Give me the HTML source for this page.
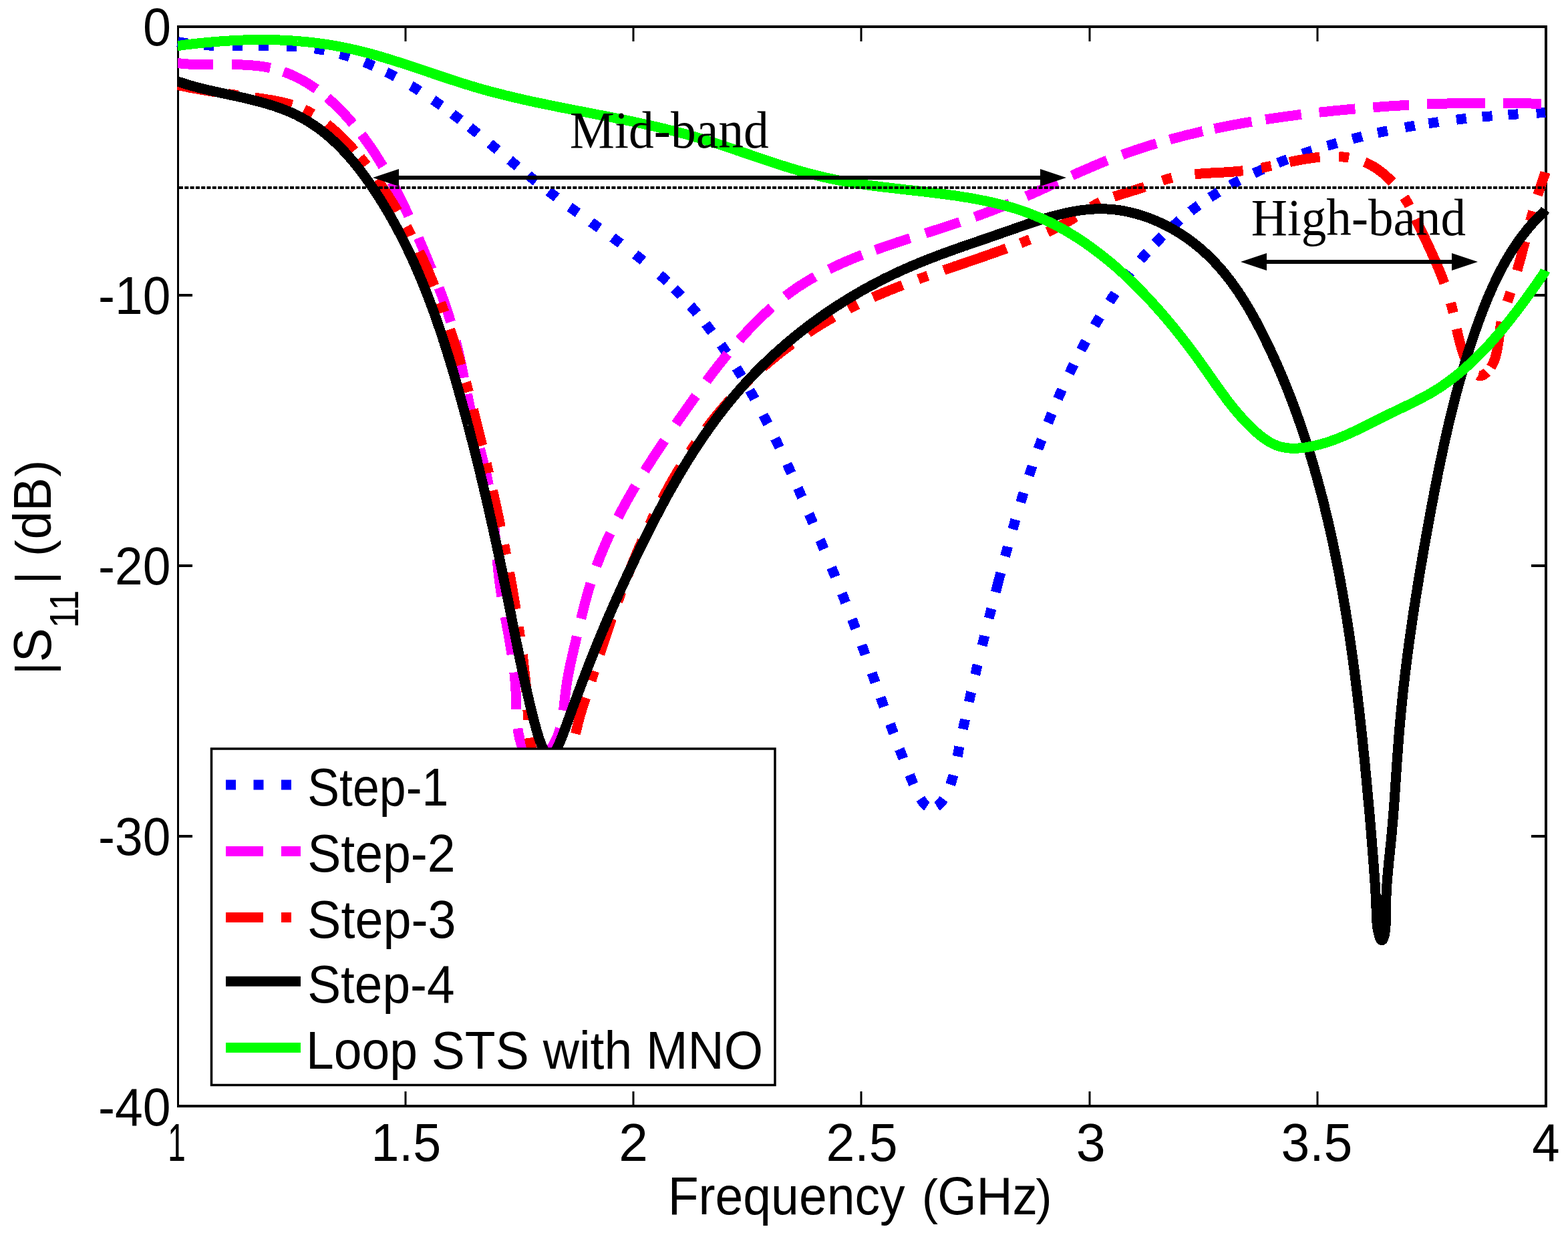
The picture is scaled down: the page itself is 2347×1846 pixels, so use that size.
<!DOCTYPE html><html><head><meta charset="utf-8"><title>S11 plot</title>
<style>html,body{margin:0;padding:0;background:#fff;}svg{display:block;}text{font-family:"Liberation Sans", Arial, Helvetica, sans-serif;}</style></head><body>
<svg xmlns="http://www.w3.org/2000/svg" width="2347" height="1846" viewBox="0 0 2347 1846">
<rect x="0" y="0" width="2347" height="1846" fill="#fff"/>
<g fill="#000">
<rect x="265" y="38" width="3" height="1620"/>
<rect x="2312" y="38" width="4" height="1620"/>
<rect x="265" y="38" width="2051" height="4"/>
<rect x="265" y="1654" width="2051" height="4"/>
<rect x="268" y="440" width="20" height="4"/>
<rect x="2292" y="440" width="20" height="4"/>
<rect x="268" y="845" width="20" height="4"/>
<rect x="2292" y="845" width="20" height="4"/>
<rect x="268" y="1250" width="20" height="4"/>
<rect x="2292" y="1250" width="20" height="4"/>
<rect x="605.5" y="42" width="3" height="20"/>
<rect x="605.5" y="1634" width="3" height="20"/>
<rect x="946.5" y="42" width="3" height="20"/>
<rect x="946.5" y="1634" width="3" height="20"/>
<rect x="1287.5" y="42" width="3" height="20"/>
<rect x="1287.5" y="1634" width="3" height="20"/>
<rect x="1629.5" y="42" width="3" height="20"/>
<rect x="1629.5" y="1634" width="3" height="20"/>
<rect x="1970.5" y="42" width="3" height="20"/>
<rect x="1970.5" y="1634" width="3" height="20"/>
</g>
<path d="M266.0 62.5 L269.2 63.2 L272.1 63.7 L275.0 64.2 L277.8 64.6 L280.8 65.0 M305.6 67.6 L307.2 67.7 L310.1 67.9 L313.1 68.0 L316.1 68.2 L319.1 68.3 L320.6 68.4 M347.6 68.9 L349.1 68.9 L352.1 68.9 L355.1 68.9 L358.2 68.9 L361.2 68.8 L362.6 68.8 M387.0 68.7 L388.5 68.6 L391.5 68.6 L394.5 68.6 L397.6 68.6 L400.6 68.6 L402.0 68.6 M429.3 69.2 L430.8 69.2 L433.8 69.4 L436.8 69.5 L439.8 69.7 L442.8 69.9 L444.3 70.0 M471.0 72.8 L472.5 73.0 L475.5 73.4 L478.4 73.9 L481.4 74.4 L484.3 75.0 L485.8 75.3 M508.8 80.7 L510.3 81.1 L513.2 81.9 L516.0 82.8 L518.9 83.6 L521.7 84.5 L523.2 85.0 M545.5 93.1 L546.9 93.7 L549.7 94.8 L552.5 95.9 L555.2 97.1 L558.0 98.3 L559.4 98.9 M578.4 107.9 L579.7 108.5 L582.4 109.9 L585.1 111.3 L587.7 112.7 L590.4 114.1 L591.7 114.8 M615.3 128.3 L616.6 129.0 L619.1 130.6 L621.7 132.2 L624.3 133.8 L626.8 135.4 L628.0 136.2 M648.2 149.6 L649.4 150.4 L651.9 152.1 L654.3 153.8 L656.8 155.6 L659.2 157.3 L660.5 158.2 M677.3 170.5 L678.5 171.5 L680.9 173.3 L683.3 175.1 L685.6 176.9 L688.0 178.7 L689.2 179.6 M703.2 190.6 L704.4 191.6 L706.7 193.4 L709.1 195.3 L711.4 197.1 L713.7 199.0 L714.9 200.0 M733.2 214.9 L734.4 215.9 L736.7 217.8 L739.0 219.7 L741.3 221.6 L743.6 223.5 L744.8 224.5 M763.0 239.6 L764.2 240.6 L766.4 242.5 L768.7 244.4 L771.0 246.3 L773.3 248.2 L774.5 249.2 M790.6 262.3 L791.8 263.3 L794.1 265.2 L796.4 267.0 L798.8 268.9 L801.1 270.8 L802.3 271.7 M821.2 286.5 L822.4 287.4 L824.7 289.2 L827.1 291.0 L829.5 292.8 L832.0 294.6 L833.1 295.5 M852.7 309.9 L853.9 310.7 L856.3 312.5 L858.8 314.2 L861.3 316.0 L863.7 317.8 L864.9 318.6 M884.8 332.7 L886.0 333.6 L888.5 335.3 L890.9 337.1 L893.4 338.8 L895.9 340.6 L897.1 341.4 M916.9 355.6 L918.1 356.5 L920.5 358.3 L923.0 360.0 L925.4 361.8 L927.9 363.6 L929.0 364.5 M950.8 380.9 L951.9 381.8 L954.3 383.7 L956.7 385.5 L959.0 387.4 L961.4 389.3 L962.5 390.2 M987.6 411.5 L988.7 412.5 L991.0 414.5 L993.2 416.5 L995.3 418.5 L997.5 420.6 L998.6 421.6 M1009.2 431.9 L1010.3 433.0 L1012.4 435.1 L1014.4 437.2 L1016.5 439.3 L1018.6 441.5 L1019.6 442.6 M1033.5 457.8 L1034.6 458.9 L1036.5 461.2 L1038.4 463.4 L1040.4 465.6 L1042.3 467.9 L1043.3 469.1 M1056.3 485.0 L1057.2 486.3 L1059.1 488.6 L1060.9 491.0 L1062.7 493.3 L1064.5 495.7 L1065.4 496.9 M1079.3 516.0 L1080.2 517.3 L1081.9 519.7 L1083.5 522.2 L1085.2 524.6 L1086.9 527.1 L1087.8 528.4 M1102.3 550.8 L1103.1 552.1 L1104.7 554.7 L1106.3 557.2 L1107.8 559.7 L1109.4 562.3 L1110.2 563.6 M1122.3 584.3 L1123.0 585.6 L1124.5 588.2 L1126.0 590.8 L1127.4 593.4 L1128.9 596.0 L1129.6 597.3 M1142.4 621.3 L1143.1 622.6 L1144.5 625.3 L1145.9 627.9 L1147.3 630.6 L1148.6 633.3 L1149.3 634.6 M1160.1 656.4 L1160.7 657.7 L1162.1 660.4 L1163.4 663.1 L1164.7 665.8 L1166.0 668.6 L1166.6 669.9 M1178.2 694.7 L1178.8 696.0 L1180.0 698.8 L1181.3 701.5 L1182.5 704.3 L1183.8 707.1 L1184.4 708.4 M1194.3 730.7 L1194.9 732.0 L1196.1 734.7 L1197.3 737.5 L1198.5 740.3 L1199.7 743.1 L1200.3 744.4 M1211.0 769.5 L1211.6 770.8 L1212.8 773.6 L1214.0 776.4 L1215.2 779.2 L1216.3 781.9 L1216.9 783.3 M1227.4 808.3 L1228.0 809.6 L1229.2 812.4 L1230.3 815.2 L1231.5 817.9 L1232.6 820.7 L1233.2 822.1 M1244.6 849.7 L1245.2 851.1 L1246.3 853.9 L1247.4 856.7 L1248.6 859.4 L1249.7 862.2 L1250.2 863.6 M1260.2 888.4 L1260.8 889.8 L1261.9 892.6 L1263.0 895.4 L1264.0 898.1 L1265.1 900.9 L1265.7 902.4 M1275.3 927.1 L1275.9 928.6 L1277.0 931.3 L1278.0 934.1 L1279.1 936.9 L1280.1 939.6 L1280.7 941.1 M1290.0 965.9 L1290.5 967.4 L1291.5 970.1 L1292.6 972.9 L1293.6 975.7 L1294.6 978.5 L1295.1 980.0 M1305.1 1007.6 L1305.6 1009.1 L1306.6 1011.9 L1307.6 1014.6 L1308.6 1017.4 L1309.6 1020.2 L1310.1 1021.7 M1318.1 1044.1 L1318.6 1045.5 L1319.6 1048.3 L1320.6 1051.1 L1321.6 1054.0 L1322.6 1056.8 L1323.1 1058.2 M1332.4 1083.9 L1332.9 1085.2 L1333.9 1088.1 L1335.0 1091.0 L1336.0 1093.8 L1337.1 1096.7 L1337.6 1098.0 M1346.4 1121.6 L1346.9 1122.8 L1348.0 1125.7 L1349.1 1128.7 L1350.3 1131.6 L1351.4 1134.5 L1351.8 1135.6 M1361.6 1160.2 L1362.0 1161.2 L1363.2 1164.2 L1364.4 1167.2 L1365.7 1170.2 L1366.9 1173.2 L1367.3 1174.1 M1377.8 1195.8 L1379.1 1197.8 L1380.5 1200.0 L1382.1 1202.0 L1383.7 1203.7 L1385.3 1205.3 L1387.0 1206.6 L1387.6 1207.0 M1402.2 1207.1 L1402.2 1207.1 L1404.2 1205.8 L1406.1 1204.2 L1408.0 1202.4 L1409.7 1200.3 L1411.4 1197.9 L1412.5 1196.4 M1422.6 1174.8 L1422.8 1174.2 L1423.9 1170.9 L1424.9 1167.7 L1425.9 1164.5 L1426.8 1161.3 L1427.0 1160.5 M1433.1 1132.6 L1433.4 1131.1 L1434.0 1128.1 L1434.5 1125.2 L1435.1 1122.3 L1435.6 1119.4 L1435.9 1117.8 M1441.4 1091.6 L1441.7 1090.1 L1442.3 1087.2 L1442.9 1084.3 L1443.6 1081.4 L1444.2 1078.5 L1444.5 1077.0 M1450.4 1050.8 L1450.7 1049.3 L1451.4 1046.4 L1452.0 1043.5 L1452.7 1040.6 L1453.3 1037.6 L1453.7 1036.2 M1459.7 1010.0 L1460.1 1008.5 L1460.8 1005.6 L1461.4 1002.7 L1462.1 999.8 L1462.8 996.9 L1463.2 995.4 M1470.1 966.4 L1470.5 964.9 L1471.2 962.0 L1471.9 959.1 L1472.6 956.2 L1473.4 953.3 L1473.7 951.8 M1480.2 925.7 L1480.6 924.3 L1481.3 921.4 L1482.1 918.5 L1482.8 915.6 L1483.5 912.7 L1483.9 911.2 M1490.3 886.5 L1491.0 883.6 L1491.8 880.7 L1492.5 877.8 L1493.3 874.9 L1494.0 872.0 L1494.8 869.1 L1495.6 866.2 L1496.3 863.3 L1497.1 860.4 L1497.9 857.5 M1504.5 832.8 L1504.9 831.4 L1505.7 828.5 L1506.5 825.6 L1507.3 822.7 L1508.1 819.8 L1508.4 818.4 M1515.8 792.3 L1516.2 790.9 L1517.0 788.0 L1517.9 785.1 L1518.7 782.2 L1519.5 779.4 L1519.9 777.9 M1527.7 752.0 L1528.1 750.6 L1529.0 747.7 L1529.9 744.8 L1530.8 742.0 L1531.7 739.1 L1532.1 737.7 M1540.4 712.0 L1540.9 710.5 L1541.8 707.7 L1542.8 704.8 L1543.7 702.0 L1544.7 699.2 L1545.1 697.7 M1554.0 672.3 L1554.5 670.8 L1555.5 668.0 L1556.6 665.2 L1557.6 662.4 L1558.6 659.6 L1559.2 658.2 M1568.7 633.0 L1569.3 631.6 L1570.4 628.8 L1571.5 626.1 L1572.6 623.3 L1573.7 620.5 L1574.3 619.1 M1583.5 597.1 L1584.1 595.7 L1585.3 592.9 L1586.5 590.2 L1587.7 587.5 L1588.9 584.7 L1589.5 583.3 M1600.8 558.9 L1601.4 557.6 L1602.7 554.9 L1604.0 552.2 L1605.3 549.5 L1606.7 546.8 L1607.3 545.5 M1618.2 524.2 L1618.9 522.8 L1620.3 520.2 L1621.7 517.5 L1623.1 514.9 L1624.5 512.3 L1625.3 510.9 M1638.6 487.5 L1639.3 486.2 L1640.8 483.6 L1642.4 481.0 L1643.9 478.4 L1645.5 475.9 L1646.3 474.6 M1660.8 451.7 L1661.6 450.4 L1663.3 447.9 L1664.9 445.4 L1666.6 442.9 L1668.3 440.5 L1669.1 439.2 M1683.2 419.6 L1684.0 418.4 L1685.8 416.0 L1687.6 413.6 L1689.5 411.2 L1691.3 408.8 L1692.2 407.6 M1707.3 389.0 L1708.3 387.8 L1710.2 385.5 L1712.2 383.3 L1714.1 381.0 L1716.1 378.7 L1717.1 377.6 M1729.2 364.4 L1730.3 363.3 L1732.4 361.2 L1734.4 359.0 L1736.5 356.9 L1738.6 354.8 L1739.7 353.7 M1754.8 339.4 L1755.9 338.3 L1758.1 336.3 L1760.4 334.4 L1762.6 332.4 L1764.8 330.5 L1766.0 329.4 M1782.1 316.4 L1783.3 315.4 L1785.7 313.6 L1788.1 311.8 L1790.4 310.0 L1792.8 308.3 L1794.1 307.4 M1811.2 295.6 L1812.5 294.8 L1815.0 293.2 L1817.6 291.6 L1820.1 290.0 L1822.6 288.4 L1823.9 287.6 M1842.0 277.2 L1843.4 276.4 L1846.0 275.0 L1848.6 273.6 L1851.3 272.2 L1853.9 270.8 L1855.3 270.1 M1876.9 259.4 L1878.2 258.8 L1881.0 257.5 L1883.7 256.3 L1886.5 255.1 L1889.2 253.8 L1890.6 253.2 M1912.9 243.9 L1914.3 243.3 L1917.1 242.2 L1919.9 241.1 L1922.7 240.1 L1925.5 239.0 L1926.9 238.5 M1949.7 230.3 L1951.1 229.8 L1953.9 228.8 L1956.8 227.8 L1959.6 226.9 L1962.5 225.9 L1963.9 225.5 M1986.8 218.3 L1988.3 217.9 L1991.1 217.0 L1994.0 216.2 L1996.9 215.4 L1999.8 214.5 L2001.2 214.1 M2024.3 207.9 L2025.8 207.5 L2028.7 206.8 L2031.6 206.0 L2034.5 205.3 L2037.4 204.6 L2038.9 204.2 M2062.1 198.9 L2063.6 198.6 L2066.5 197.9 L2069.4 197.3 L2072.3 196.7 L2075.3 196.1 L2076.8 195.8 M2103.1 190.7 L2104.6 190.4 L2107.5 189.9 L2110.5 189.4 L2113.4 188.9 L2116.3 188.4 L2117.8 188.1 M2138.4 184.8 L2139.9 184.6 L2142.9 184.1 L2145.8 183.7 L2148.8 183.3 L2151.8 182.9 L2153.3 182.6 M2179.9 179.2 L2181.4 179.0 L2184.4 178.6 L2187.4 178.3 L2190.3 177.9 L2193.3 177.6 L2194.8 177.4 M2218.6 175.0 L2220.1 174.9 L2223.1 174.6 L2226.1 174.3 L2229.1 174.1 L2232.1 173.8 L2233.6 173.7 M2257.5 171.8 L2259.0 171.7 L2262.0 171.5 L2265.0 171.3 L2268.0 171.1 L2271.0 170.9 L2272.5 170.8 M2299.6 169.3 L2301.1 169.2 L2304.1 169.0 L2307.1 168.9 L2310.1 168.8 L2313.0 168.5" fill="none" stroke="#0000ff" stroke-width="15" stroke-linejoin="round" stroke-linecap="butt" shape-rendering="crispEdges"/>
<path d="M266.0 95.0 L269.3 94.9 L272.1 95.2 L274.9 95.4 L277.7 95.7 L280.6 95.9 L283.5 96.1 L286.4 96.2 L289.3 96.3 L292.2 96.4 L295.2 96.5 L298.2 96.6 L301.2 96.6 L304.2 96.7 L307.2 96.7 L310.2 96.7 L313.2 96.7 L316.3 96.7 L319.3 96.7 M347.1 96.6 L350.2 96.6 L353.3 96.7 L356.4 96.8 L359.4 96.9 L362.5 97.0 L365.6 97.1 L368.7 97.3 L371.7 97.4 L374.8 97.7 L377.8 97.9 L380.8 98.2 L383.9 98.5 L386.9 98.8 L389.9 99.2 L392.8 99.6 L395.8 100.1 L398.8 100.6 L401.7 101.2 L404.6 101.8 M424.4 107.4 L427.2 108.4 L429.9 109.5 L432.6 110.5 L435.3 111.7 L438.0 112.9 L440.7 114.1 L443.3 115.3 L445.9 116.6 L448.6 118.0 L451.1 119.3 L453.7 120.8 L456.2 122.2 L458.8 123.7 L461.3 125.2 L463.8 126.8 L466.2 128.4 L468.7 130.1 L471.1 131.7 L473.5 133.4 M489.9 146.3 L492.2 148.2 L494.5 150.2 L496.7 152.2 L498.9 154.2 L501.1 156.3 L503.3 158.4 L505.4 160.5 L507.6 162.6 L509.7 164.7 L511.8 166.9 L513.9 169.1 L516.0 171.3 L518.0 173.5 L520.0 175.8 L522.1 178.1 L524.1 180.3 L526.0 182.6 L528.0 185.0 M541.3 201.6 L543.1 204.0 L544.9 206.4 L546.7 208.9 L548.4 211.3 L550.2 213.8 L551.9 216.3 L553.7 218.7 L555.4 221.2 L557.1 223.7 L558.7 226.2 L560.4 228.7 L562.0 231.2 L563.7 233.8 L565.3 236.3 L566.9 238.8 L568.5 241.4 L570.0 243.9 L571.6 246.5 L573.2 249.1 M586.5 272.5 L587.9 275.1 L589.3 277.8 L590.7 280.4 L592.1 283.1 L593.5 285.7 L594.8 288.4 L596.2 291.1 L597.6 293.7 L598.9 296.4 L600.2 299.1 L601.5 301.8 L602.9 304.5 L604.2 307.1 L605.4 309.8 L606.7 312.6 L608.0 315.3 L609.3 318.0 L610.5 320.7 L611.8 323.4 M626.4 356.2 L627.5 359.0 L628.7 361.8 L629.9 364.5 L631.1 367.3 L632.2 370.0 L633.4 372.8 L634.5 375.6 L635.7 378.3 L636.9 381.1 L638.0 383.9 L639.2 386.6 L640.3 389.4 L641.4 392.2 L642.6 394.9 L643.7 397.7 L644.9 400.5 L646.0 403.2 M657.1 431.0 L658.1 433.8 L659.2 436.6 L660.3 439.4 L661.3 442.2 L662.3 445.0 L663.4 447.8 L664.4 450.7 L665.4 453.5 L666.3 456.3 L667.3 459.1 L668.3 462.0 L669.2 464.8 L670.2 467.7 L671.1 470.5 L672.0 473.4 L672.9 476.2 L673.7 479.1 L674.6 482.0 M682.4 510.9 L683.1 513.9 L683.8 516.8 L684.5 519.7 L685.2 522.6 L685.9 525.6 L686.5 528.5 L687.2 531.4 L687.8 534.4 L688.5 537.3 L689.1 540.2 L689.8 543.2 L690.4 546.1 L691.0 549.0 L691.6 552.0 L692.2 554.9 L692.8 557.9 L693.4 560.8 L694.1 563.7 L694.4 565.6 M699.4 590.1 L700.0 593.1 L700.6 596.0 L701.2 598.9 L701.8 601.8 L702.4 604.8 L703.0 607.7 L703.6 610.6 L704.3 613.5 L704.9 616.5 L705.5 619.4 L706.2 622.3 L706.8 625.2 L707.5 628.1 L708.1 631.1 L708.8 634.0 L709.5 636.9 L710.1 639.8 L710.8 642.7 L711.5 645.6 M718.3 671.8 L719.1 674.7 L719.8 677.7 L720.6 680.6 L721.4 683.5 L722.1 686.4 L722.9 689.3 L723.6 692.2 L724.4 695.1 L725.1 698.0 L725.8 701.0 L726.5 703.9 L727.2 706.8 L727.9 709.7 L728.6 712.7 L729.2 715.6 L729.8 718.5 L730.4 721.5 L731.0 724.4 L731.4 726.3 M735.8 754.0 L736.2 756.9 L736.6 759.9 L737.0 762.9 L737.3 765.8 L737.7 768.8 L738.0 771.8 L738.3 774.8 L738.6 777.8 L738.9 780.7 L739.2 783.7 L739.5 786.7 L739.8 789.7 L740.1 792.7 L740.4 795.7 L740.7 798.6 L740.9 801.6 L741.2 804.6 L741.5 807.6 L741.6 809.6 M744.1 837.5 L744.4 840.5 L744.7 843.5 L745.0 846.5 L745.3 849.5 L745.6 852.5 L745.9 855.4 L746.2 858.4 L746.6 861.4 L746.9 864.4 L747.3 867.4 L747.6 870.4 L748.0 873.3 L748.4 876.3 L748.8 879.3 L749.3 882.3 L749.7 885.2 L750.1 888.2 L750.6 891.2 L750.9 893.1 M756.2 923.7 L756.7 926.7 L757.3 929.7 L757.8 932.6 L758.4 935.6 L758.9 938.5 L759.5 941.5 L760.0 944.4 L760.6 947.4 L761.1 950.3 L761.6 953.3 L762.2 956.2 L762.7 959.2 L763.2 962.1 L763.7 965.1 L764.2 968.1 L764.7 971.0 L765.2 974.0 L765.7 976.9 L766.1 979.9 M769.8 1006.5 L770.1 1009.5 L770.4 1012.4 L770.7 1015.4 L770.9 1018.4 L771.2 1021.3 L771.4 1024.3 L771.6 1027.3 L771.8 1030.2 L771.9 1033.2 L772.1 1036.2 L772.2 1039.2 L772.3 1042.2 L772.3 1045.1 L772.4 1048.1 L772.5 1051.1 L772.5 1054.1 L772.6 1057.1 L772.7 1060.1 L772.7 1062.4 M774.9 1090.6 L775.4 1093.7 L775.9 1096.8 L776.5 1099.9 L777.2 1103.0 L777.9 1106.2 L778.8 1109.3 L779.7 1112.5 L780.7 1115.6 L781.8 1118.7 L783.0 1121.7 L784.3 1124.5 L785.7 1127.2 L787.3 1129.7 L788.9 1131.9 L790.7 1133.8 L792.7 1135.3 L794.7 1136.5 L796.9 1137.4 L799.0 1137.8 M821.5 1125.3 L821.9 1124.8 L823.9 1122.1 L825.7 1119.4 L827.5 1116.6 L829.1 1113.8 L830.6 1110.9 L832.0 1108.1 L833.3 1105.2 L834.5 1102.3 L835.6 1099.4 L836.7 1096.5 L837.6 1093.5 L838.5 1090.6 L838.5 1090.2 M843.5 1063.7 L843.8 1060.7 L844.2 1057.7 L844.5 1054.7 L844.8 1051.7 L845.1 1048.7 L845.4 1045.7 L845.8 1042.8 L846.1 1039.8 L846.4 1036.8 L846.8 1033.9 L847.2 1030.9 L847.6 1028.0 L848.0 1025.1 L848.5 1022.1 L849.0 1019.2 L849.5 1016.3 L850.0 1013.4 L850.5 1010.5 L851.1 1007.6 L851.6 1004.7 L852.2 1001.9 L852.8 999.0 L853.4 996.1 L854.0 993.2 L854.7 990.3 L855.3 987.5 L856.0 984.6 L856.6 981.7 L857.3 978.8 L858.0 975.9 L858.6 973.0 L859.3 970.1 L860.0 967.2 L860.7 964.3 L861.4 961.4 L862.0 958.5 L862.7 955.6 L863.4 952.7 M869.7 926.1 L870.4 923.2 L871.1 920.2 L871.9 917.3 L872.6 914.3 L873.4 911.3 L874.1 908.4 L874.9 905.4 L875.7 902.5 L876.5 899.6 L877.3 896.6 L878.1 893.7 L878.9 890.7 L879.7 887.8 L880.6 884.9 L881.4 882.0 L882.3 879.1 L883.2 876.2 L884.1 873.3 M892.8 847.7 L893.8 844.9 L894.9 842.1 L896.0 839.3 L897.0 836.5 L898.1 833.7 L899.2 831.0 L900.4 828.2 L901.5 825.4 L902.6 822.7 L903.8 820.0 L905.0 817.2 L906.1 814.5 L907.3 811.8 L908.5 809.1 L909.8 806.3 L911.0 803.6 L912.2 800.9 L913.5 798.3 M925.2 774.3 L926.6 771.7 L928.0 769.0 L929.4 766.4 L930.7 763.8 L932.1 761.2 L933.6 758.6 L935.0 756.0 L936.4 753.4 L937.8 750.8 L939.3 748.2 L940.7 745.6 L942.2 743.0 L943.7 740.4 L945.2 737.9 L946.6 735.3 L948.1 732.7 L949.6 730.2 L951.2 727.6 M965.1 704.8 L966.7 702.2 L968.3 699.7 L969.9 697.2 L971.5 694.7 L973.1 692.2 L974.8 689.7 L976.4 687.1 L978.0 684.6 L979.7 682.1 L981.3 679.6 L982.9 677.1 L984.6 674.6 L986.3 672.1 L987.9 669.6 L989.6 667.2 L991.3 664.7 L993.0 662.2 L994.6 659.7 M1011.7 634.9 L1013.4 632.4 L1015.2 629.9 L1016.9 627.4 L1018.6 624.9 L1020.4 622.5 L1022.1 620.0 L1023.9 617.5 L1025.6 615.0 L1027.4 612.5 L1029.1 610.1 L1030.9 607.6 L1032.6 605.1 L1034.4 602.6 L1036.1 600.2 L1037.9 597.7 L1039.7 595.2 L1041.5 592.7 M1057.6 570.6 L1059.4 568.1 L1061.2 565.7 L1063.0 563.3 L1064.9 560.8 L1066.7 558.4 L1068.5 556.0 L1070.4 553.6 L1072.2 551.2 L1074.1 548.7 L1075.9 546.4 L1077.8 544.0 L1079.7 541.6 L1081.6 539.2 L1083.5 536.8 L1085.4 534.5 L1087.3 532.1 L1089.2 529.8 M1106.7 509.0 L1108.7 506.8 L1110.7 504.5 L1112.7 502.3 L1114.7 500.1 L1116.8 497.9 L1118.8 495.7 L1120.8 493.5 L1122.9 491.3 L1125.0 489.2 L1127.0 487.0 L1129.1 484.9 L1131.2 482.8 L1133.3 480.7 L1135.4 478.6 L1137.6 476.5 L1139.7 474.4 L1141.8 472.4 L1144.0 470.3 L1146.2 468.3 L1148.4 466.3 L1150.6 464.3 L1152.8 462.3 L1155.0 460.4 M1175.5 443.5 L1177.8 441.7 L1180.2 439.9 L1182.6 438.2 L1185.0 436.4 L1187.4 434.7 L1189.8 433.0 L1192.2 431.3 L1194.6 429.7 L1197.1 428.1 L1199.6 426.5 L1202.1 424.9 L1204.6 423.3 L1207.1 421.7 L1209.6 420.2 L1212.1 418.7 L1214.7 417.2 L1217.3 415.7 L1219.8 414.2 M1240.9 403.2 L1243.6 401.9 L1246.2 400.6 L1248.9 399.3 L1251.7 398.0 L1254.4 396.8 L1257.1 395.5 L1259.8 394.3 L1262.6 393.1 L1265.3 391.9 L1268.1 390.7 L1270.9 389.5 L1273.6 388.4 L1276.4 387.2 L1279.2 386.1 L1282.0 384.9 L1284.8 383.8 L1287.6 382.7 L1290.5 381.6 M1310.3 374.2 L1313.2 373.2 L1316.0 372.2 L1318.9 371.1 L1321.8 370.1 L1324.7 369.2 L1327.5 368.2 L1330.4 367.2 L1333.3 366.2 L1336.2 365.2 L1339.1 364.3 L1341.9 363.3 L1344.8 362.3 L1347.7 361.4 L1350.6 360.4 L1353.5 359.5 L1356.4 358.6 L1359.3 357.6 L1362.2 356.7 M1385.3 349.3 L1388.1 348.4 L1391.0 347.5 L1393.9 346.5 L1396.8 345.6 L1399.6 344.7 L1402.5 343.8 L1405.4 342.8 L1408.2 341.9 L1411.1 341.0 L1413.9 340.1 L1416.8 339.1 L1419.6 338.2 L1422.4 337.3 L1425.3 336.3 L1428.1 335.4 L1430.9 334.4 L1433.7 333.5 L1436.6 332.5 M1459.0 324.7 L1461.8 323.7 L1464.6 322.7 L1467.4 321.7 L1470.1 320.7 L1472.9 319.7 L1475.7 318.6 L1478.5 317.6 L1481.2 316.5 L1484.0 315.5 L1486.8 314.4 L1489.5 313.4 L1492.3 312.3 L1495.1 311.2 L1497.8 310.1 L1500.6 309.0 L1503.3 307.9 L1506.1 306.8 L1508.8 305.7 L1511.6 304.5 M1536.3 293.9 L1539.0 292.7 L1541.8 291.5 L1544.5 290.3 L1547.2 289.0 L1550.0 287.8 L1552.7 286.6 L1555.4 285.3 L1558.2 284.1 L1560.9 282.8 L1563.6 281.6 L1566.4 280.3 L1569.1 279.1 L1571.9 277.8 L1574.6 276.5 L1577.3 275.3 L1580.1 274.0 L1582.8 272.8 M1604.7 262.8 L1607.5 261.5 L1610.2 260.3 L1613.0 259.0 L1615.8 257.8 L1618.5 256.6 L1621.3 255.4 L1624.0 254.2 L1626.8 253.0 L1629.6 251.8 L1632.3 250.6 L1635.1 249.4 L1637.9 248.2 L1640.6 247.0 L1643.4 245.9 L1646.2 244.7 L1649.0 243.6 L1651.7 242.4 L1654.5 241.3 L1657.3 240.2 M1679.8 231.7 L1682.6 230.6 L1685.4 229.6 L1688.2 228.6 L1691.0 227.6 L1693.9 226.7 L1696.7 225.7 L1699.5 224.7 L1702.4 223.8 L1705.2 222.8 L1708.0 221.9 L1710.9 221.0 L1713.7 220.0 L1716.6 219.1 L1719.4 218.2 L1722.3 217.3 L1725.1 216.5 L1728.0 215.6 L1730.9 214.7 M1751.0 208.9 L1753.8 208.1 L1756.7 207.4 L1759.6 206.6 L1762.5 205.8 L1765.4 205.1 L1768.3 204.3 L1771.2 203.6 L1774.1 202.8 L1777.0 202.1 L1779.9 201.4 L1782.8 200.7 L1785.7 200.0 L1788.6 199.3 L1791.5 198.6 L1794.4 197.9 L1797.3 197.2 L1800.2 196.5 M1817.7 192.7 L1820.7 192.1 L1823.6 191.5 L1826.5 190.9 L1829.4 190.3 L1832.4 189.7 L1835.3 189.1 L1838.2 188.5 L1841.2 188.0 L1844.1 187.4 L1847.1 186.8 L1850.0 186.3 L1853.0 185.8 L1855.9 185.2 L1858.8 184.7 L1861.8 184.2 L1864.7 183.6 L1867.7 183.1 L1870.6 182.6 L1873.6 182.1 M1894.3 178.8 L1897.3 178.3 L1900.2 177.9 L1903.2 177.4 L1906.2 177.0 L1909.1 176.6 L1912.1 176.2 L1915.1 175.7 L1918.0 175.3 L1921.0 174.9 L1924.0 174.5 L1926.9 174.1 L1929.9 173.7 L1932.9 173.3 L1935.9 172.9 L1938.8 172.5 L1941.8 172.1 L1944.8 171.8 L1947.8 171.4 M1974.6 168.3 L1977.6 167.9 L1980.6 167.6 L1983.6 167.3 L1986.5 167.0 L1989.5 166.7 L1992.5 166.3 L1995.5 166.0 L1998.5 165.7 L2001.5 165.4 L2004.5 165.1 L2007.4 164.9 L2010.4 164.6 L2013.4 164.3 L2016.4 164.0 L2019.4 163.7 L2022.4 163.5 L2025.4 163.2 L2028.4 162.9 M2055.3 160.7 L2058.3 160.5 L2061.3 160.3 L2064.3 160.1 L2067.3 159.8 L2070.3 159.6 L2073.3 159.4 L2076.3 159.2 L2079.2 159.0 L2082.2 158.8 L2085.2 158.6 L2088.2 158.5 L2091.2 158.3 L2094.2 158.1 L2097.2 157.9 L2100.2 157.7 L2103.2 157.6 L2106.2 157.4 L2109.2 157.3 M2136.2 156.0 L2139.2 155.9 L2142.2 155.8 L2145.2 155.6 L2148.2 155.5 L2151.2 155.4 L2154.2 155.3 L2157.2 155.2 L2160.2 155.1 L2163.2 155.1 L2166.2 155.0 L2169.2 154.9 L2172.2 154.8 L2175.2 154.7 L2178.2 154.7 L2181.2 154.6 L2184.2 154.5 L2187.2 154.5 L2190.2 154.4 L2193.2 154.4 L2196.2 154.3 L2199.2 154.3 L2202.1 154.3 L2205.1 154.2 L2208.1 154.2 L2211.1 154.2 L2214.1 154.2 L2217.1 154.1 L2220.1 154.1 L2223.1 154.1 M2250.1 154.2 L2253.1 154.2 L2256.1 154.3 L2259.1 154.3 L2262.1 154.4 L2265.1 154.4 L2268.1 154.5 L2271.1 154.5 L2274.1 154.6 L2277.1 154.6 L2280.1 154.7 L2283.0 154.8 L2286.0 154.9 L2289.0 154.9 L2292.0 155.0 L2295.0 155.1 L2298.0 155.2 L2301.0 155.3 L2304.0 155.4 L2307.0 155.5" fill="none" stroke="#ff00ff" stroke-width="15" stroke-linejoin="round" stroke-linecap="butt" shape-rendering="crispEdges"/>
<path d="M266.0 127.5 L268.9 128.1 L271.9 128.7 L274.8 129.3 L277.7 129.9 L280.7 130.5 L283.6 131.1 L286.5 131.6 L289.5 132.2 L292.4 132.7 L295.4 133.2 L298.3 133.8 L301.3 134.3 L304.2 134.8 L307.2 135.3 L310.1 135.8 L313.1 136.2 L316.1 136.7 L319.0 137.2 L322.0 137.7 M341.3 140.6 L342.8 140.8 L345.8 141.2 L348.8 141.6 L351.7 142.1 L354.7 142.5 L356.2 142.7 M381.5 146.2 L384.5 146.6 L387.5 147.0 L390.4 147.5 L393.4 147.9 L396.4 148.3 L399.3 148.8 L402.3 149.3 L405.3 149.7 L408.2 150.2 L411.1 150.8 L414.1 151.3 L417.0 151.9 L419.9 152.5 L422.8 153.2 L425.7 153.8 L428.5 154.6 L431.4 155.3 L434.2 156.1 L437.1 157.0 M455.0 163.7 L456.4 164.4 L459.1 165.7 L461.8 167.0 L464.4 168.4 L467.0 170.0 L468.3 170.7 M489.5 185.8 L491.8 187.7 L494.2 189.7 L496.5 191.7 L498.8 193.7 L501.1 195.7 L503.3 197.7 L505.5 199.7 L507.7 201.8 L509.9 203.9 L512.1 206.0 L514.2 208.1 L516.3 210.2 L518.4 212.3 L520.5 214.5 L522.5 216.6 L524.5 218.8 L526.6 221.0 L528.5 223.2 L530.5 225.4 M539.1 235.5 L540.1 236.7 L542.0 239.0 L543.9 241.3 L545.7 243.6 L547.6 246.0 L548.5 247.2 M564.6 268.9 L565.3 269.9 L567.0 272.3 L568.7 274.8 L570.4 277.2 L572.1 279.7 L573.8 282.2 L575.4 284.7 L577.1 287.2 L578.7 289.7 L580.4 292.2 L582.0 294.7 L583.6 297.2 L585.3 299.8 L586.9 302.3 L588.5 304.9 L590.0 307.4 L591.6 310.0 L593.2 312.6 L594.7 315.1 L595.1 315.8 M608.6 339.3 L609.7 341.2 L611.1 343.9 L612.5 346.5 L613.9 349.2 L615.3 351.8 L615.6 352.5 M627.7 376.6 L628.6 378.6 L629.9 381.3 L631.2 384.1 L632.4 386.8 L633.7 389.5 L634.9 392.2 L636.2 394.9 L637.4 397.7 L638.6 400.4 L639.8 403.2 L641.0 405.9 L642.1 408.6 L643.3 411.4 L644.5 414.2 L645.6 416.9 L646.8 419.7 L647.9 422.4 L649.0 425.2 L650.1 427.9 M659.8 453.1 L660.8 455.9 L661.9 458.7 L662.9 461.5 L663.9 464.4 L664.9 467.2 L664.9 467.2 M673.7 492.8 L674.6 495.5 L675.5 498.4 L676.4 501.2 L677.3 504.1 L678.2 506.9 L679.1 509.8 L680.0 512.7 L680.9 515.5 L681.8 518.4 L682.7 521.3 L683.6 524.1 L684.4 527.0 L685.3 529.9 L686.2 532.7 L687.0 535.6 L687.9 538.5 L688.7 541.4 L689.5 544.3 L690.1 546.3 M697.4 572.3 L697.7 573.2 L698.5 576.1 L699.3 579.0 L700.0 581.8 L700.8 584.7 L701.4 586.8 M708.2 612.9 L708.4 613.8 L709.2 616.7 L709.9 619.6 L710.7 622.5 L711.4 625.4 L712.1 628.3 L712.9 631.2 L713.6 634.1 L714.3 637.1 L715.1 640.0 L715.8 642.9 L716.5 645.8 L717.2 648.7 L718.0 651.6 L718.7 654.5 L719.4 657.4 L720.1 660.3 L720.8 663.3 L721.5 666.2 L721.8 667.2 M728.1 693.5 L728.5 695.3 L729.2 698.2 L729.9 701.1 L730.6 704.0 L731.3 707.0 L731.5 708.1 M737.5 734.4 L737.9 736.1 L738.6 739.1 L739.2 742.0 L739.9 744.9 L740.5 747.8 L741.2 750.7 L741.8 753.7 L742.4 756.6 L743.1 759.5 L743.7 762.4 L744.3 765.4 L745.0 768.3 L745.6 771.2 L746.2 774.1 L746.8 777.1 L747.4 780.0 L748.1 782.9 L748.7 785.9 L749.3 788.8 L749.4 789.1 M754.7 815.6 L755.2 818.1 L755.8 821.1 L756.4 824.0 L756.9 827.0 L757.5 829.9 L757.6 830.3 M762.6 856.9 L763.0 859.4 L763.6 862.3 L764.1 865.3 L764.6 868.2 L765.1 871.2 L765.7 874.1 L766.2 877.1 L766.7 880.0 L767.2 883.0 L767.7 885.9 L768.2 888.9 L768.7 891.9 L769.2 894.8 L769.7 897.8 L770.2 900.7 L770.7 903.7 L771.2 906.7 L771.7 909.6 L772.1 912.0 M776.2 938.7 L776.3 939.4 L776.8 942.4 L777.2 945.3 L777.7 948.3 L778.1 951.3 L778.4 953.6 M782.1 980.3 L782.2 981.1 L782.5 984.1 L782.9 987.1 L783.3 990.1 L783.6 993.1 L784.0 996.0 L784.3 999.0 L784.7 1002.0 L785.0 1005.0 L785.3 1008.0 L785.6 1010.9 L786.0 1013.9 L786.3 1016.9 L786.6 1019.9 L786.8 1022.8 L787.1 1025.8 L787.4 1028.8 L787.7 1031.8 L787.9 1034.7 L788.0 1036.0 M789.9 1062.9 L790.0 1064.3 L790.2 1067.2 L790.3 1070.1 L790.5 1073.1 L790.6 1076.0 L790.7 1077.9 M792.4 1104.8 L792.5 1105.5 L793.0 1108.5 L793.6 1111.5 L794.3 1114.6 L795.2 1117.7 L796.2 1120.8 L797.3 1124.0 L798.6 1127.1 L800.0 1130.1 L801.5 1133.0 L803.2 1135.8 L805.0 1138.5 L806.9 1140.9 L808.9 1143.0 L811.0 1144.9 L813.3 1146.4 L815.7 1147.6 L818.1 1148.4 L820.7 1148.8 L821.0 1148.7 M844.2 1136.3 L846.1 1134.2 L847.9 1131.9 L849.6 1129.4 L851.2 1126.9 L852.6 1124.4 L852.8 1124.0 M861.5 1098.6 L862.1 1096.0 L862.8 1093.0 L863.5 1090.0 L864.2 1087.0 L864.9 1084.0 L865.6 1081.1 L866.4 1078.1 L867.2 1075.2 L868.0 1072.2 L868.9 1069.3 L869.7 1066.4 L870.6 1063.5 L871.5 1060.6 L872.4 1057.8 L873.4 1054.9 L874.3 1052.0 L875.2 1049.2 L876.2 1046.3 L876.7 1044.7 M885.1 1019.0 L885.5 1017.9 L886.4 1015.1 L887.3 1012.3 L888.2 1009.4 L889.1 1006.6 L889.7 1004.8 M898.0 979.1 L898.3 978.4 L899.2 975.6 L900.1 972.7 L901.0 969.9 L901.9 967.1 L902.9 964.3 L903.8 961.4 L904.7 958.6 L905.7 955.8 L906.6 953.0 L907.5 950.2 L908.5 947.3 L909.4 944.5 L910.4 941.7 L911.4 938.9 L912.3 936.0 L913.3 933.2 L914.3 930.4 L915.2 927.6 L915.8 926.0 M924.8 900.5 L925.3 899.3 L926.3 896.5 L927.3 893.7 L928.4 890.9 L929.4 888.0 L930.0 886.4 M939.6 861.2 L940.2 859.9 L941.3 857.1 L942.4 854.3 L943.5 851.5 L944.6 848.7 L945.7 846.0 L946.9 843.2 L948.0 840.4 L949.2 837.6 L950.3 834.8 L951.5 832.0 L952.6 829.3 L953.8 826.5 L955.0 823.7 L956.2 820.9 L957.4 818.2 L958.6 815.4 L959.8 812.7 L961.0 809.9 L961.2 809.5 M972.4 785.0 L973.5 782.5 L974.8 779.8 L976.1 777.1 L977.4 774.4 L978.8 771.7 L978.9 771.4 M991.1 747.4 L992.4 744.9 L993.8 742.2 L995.2 739.6 L996.6 737.0 L998.0 734.3 L999.5 731.7 L1000.9 729.1 L1002.4 726.4 L1003.8 723.8 L1005.3 721.2 L1006.8 718.6 L1008.3 716.0 L1009.8 713.4 L1011.3 710.8 L1012.8 708.3 L1014.3 705.7 L1015.9 703.1 L1017.4 700.6 L1018.6 698.6 M1033.1 675.8 L1033.4 675.3 L1035.1 672.8 L1036.7 670.4 L1038.4 667.9 L1040.1 665.4 L1041.5 663.4 M1057.3 641.5 L1057.5 641.2 L1059.3 638.8 L1061.1 636.5 L1062.9 634.1 L1064.7 631.7 L1066.6 629.4 L1068.4 627.1 L1070.3 624.7 L1072.2 622.4 L1074.0 620.1 L1075.9 617.8 L1077.8 615.5 L1079.8 613.2 L1081.7 611.0 L1083.6 608.7 L1085.6 606.4 L1087.6 604.2 L1089.5 602.0 L1091.5 599.7 L1092.8 598.3 M1111.4 578.7 L1112.1 578.0 L1114.2 575.9 L1116.3 573.8 L1118.5 571.7 L1120.6 569.6 L1122.1 568.1 M1142.0 549.9 L1142.7 549.3 L1145.0 547.3 L1147.2 545.3 L1149.5 543.4 L1151.8 541.4 L1154.1 539.5 L1156.4 537.6 L1158.8 535.7 L1161.1 533.8 L1163.4 531.9 L1165.8 530.0 L1168.1 528.1 L1170.5 526.3 L1172.9 524.4 L1175.3 522.6 L1177.7 520.8 L1180.1 519.0 L1182.5 517.2 L1184.9 515.4 L1185.7 514.9 M1209.6 498.2 L1212.1 496.5 L1214.6 494.9 L1217.2 493.3 L1219.7 491.6 L1222.2 490.0 L1224.8 488.4 L1227.3 486.8 L1229.9 485.3 L1232.5 483.7 L1235.0 482.2 L1237.6 480.6 L1240.2 479.1 L1242.8 477.6 L1245.4 476.1 L1248.0 474.6 M1270.4 462.5 L1271.7 461.8 L1274.4 460.5 L1277.1 459.1 L1279.8 457.8 L1282.4 456.5 L1283.8 455.8 M1306.8 445.1 L1309.5 443.9 L1312.3 442.7 L1315.0 441.5 L1317.8 440.4 L1320.5 439.2 L1323.2 438.0 L1326.0 436.9 L1328.8 435.7 L1331.5 434.6 L1334.3 433.5 L1337.1 432.4 L1339.8 431.3 L1342.6 430.2 L1345.4 429.1 L1348.2 428.0 L1351.0 426.9 M1374.7 418.0 L1376.1 417.5 L1379.0 416.4 L1381.8 415.4 L1384.6 414.4 L1387.4 413.4 L1388.8 412.9 M1412.8 404.5 L1415.7 403.5 L1418.5 402.5 L1421.3 401.6 L1424.2 400.6 L1427.0 399.6 L1429.8 398.6 L1432.7 397.7 L1435.5 396.7 L1438.4 395.7 L1441.2 394.8 L1444.0 393.8 L1446.9 392.8 L1449.7 391.8 L1452.6 390.9 L1455.4 389.9 L1458.2 388.9 L1461.1 387.9 L1463.9 387.0 L1466.8 386.0 L1469.6 385.0 L1472.4 384.0 L1475.3 383.0 L1478.1 382.0 L1480.9 381.0 L1483.8 380.0 L1486.6 379.0 L1489.4 378.0 L1492.3 377.0 L1495.1 376.0 L1497.9 375.0 L1500.8 374.0 L1503.6 373.0 L1506.4 371.9 M1527.6 364.0 L1528.9 363.5 L1531.8 362.4 L1534.6 361.3 L1537.4 360.2 L1540.2 359.1 L1541.5 358.6 M1567.9 347.4 L1570.6 346.2 L1573.3 344.9 L1576.0 343.6 L1578.7 342.3 L1581.4 341.0 L1584.0 339.7 L1586.7 338.3 L1589.3 336.9 L1592.0 335.5 L1594.6 334.0 L1597.2 332.6 L1599.7 331.1 L1602.3 329.5 L1604.8 328.0 L1607.3 326.4 L1609.9 324.8 M1633.5 309.7 L1634.9 308.9 L1637.4 307.5 L1640.0 306.0 L1642.6 304.7 L1645.3 303.4 L1646.7 302.7 M1667.3 294.5 L1670.2 293.5 L1673.0 292.6 L1675.9 291.6 L1678.7 290.7 L1681.6 289.8 L1684.5 288.9 L1687.4 288.0 L1690.2 287.1 L1693.1 286.2 L1696.0 285.4 L1698.9 284.5 L1701.8 283.6 L1704.6 282.6 L1707.5 281.7 L1710.4 280.8 L1713.2 279.8 M1739.9 270.3 L1741.4 269.8 L1744.2 268.9 L1747.1 268.1 L1750.0 267.3 L1752.9 266.6 L1754.4 266.2 M1788.4 260.8 L1791.4 260.5 L1794.4 260.3 L1797.5 260.0 L1800.5 259.8 L1803.5 259.6 L1806.6 259.4 L1809.6 259.2 L1812.6 259.0 L1815.7 258.9 L1818.7 258.7 L1821.7 258.5 L1824.8 258.4 L1827.8 258.2 L1830.8 258.1 L1833.8 257.9 L1836.9 257.7 L1839.9 257.5 L1842.9 257.3 L1845.9 257.1 L1848.9 256.8 L1851.8 256.6 L1854.8 256.3 L1857.8 256.0 L1860.7 255.7 M1888.1 251.4 L1889.7 251.1 L1892.6 250.5 L1895.5 249.9 L1898.3 249.3 L1901.2 248.7 L1902.8 248.4 M1930.3 242.6 L1933.3 241.9 L1936.2 241.3 L1939.2 240.8 L1942.2 240.2 L1945.2 239.6 L1948.2 239.1 L1951.3 238.5 L1954.3 238.0 L1957.3 237.5 L1960.4 237.1 L1963.4 236.7 L1966.5 236.2 L1969.5 235.9 L1972.5 235.5 L1975.6 235.2 M2004.1 234.5 L2005.7 234.6 L2008.6 234.8 L2011.6 235.1 L2014.5 235.4 L2017.4 235.8 L2019.0 236.1 M2042.7 242.8 L2045.4 243.9 L2048.1 245.2 L2050.7 246.5 L2053.3 247.9 L2055.9 249.4 L2058.4 251.0 L2060.9 252.6 L2063.4 254.4 L2065.8 256.1 L2068.2 258.0 L2070.6 259.9 L2072.9 261.9 L2075.2 263.9 L2077.5 266.0 L2079.7 268.1 L2081.8 270.3 L2084.0 272.5 M2101.9 295.5 L2102.7 296.7 L2104.3 299.3 L2105.9 301.8 L2107.4 304.4 L2108.8 307.0 L2109.5 308.4 M2119.3 328.2 L2120.5 330.9 L2121.8 333.5 L2123.1 336.2 L2124.3 338.9 L2125.6 341.6 L2126.9 344.3 L2128.1 347.0 L2129.4 349.7 L2130.7 352.4 L2132.0 355.1 L2133.3 357.8 L2134.5 360.5 L2135.8 363.2 L2137.1 366.0 L2138.4 368.7 L2139.6 371.4 L2140.9 374.1 L2142.1 376.9 L2143.4 379.6 L2144.6 382.4 L2145.9 385.1 L2147.1 387.9 L2148.3 390.6 L2149.5 393.4 L2150.7 396.1 L2151.9 398.9 L2153.1 401.7 L2154.2 404.5 L2155.4 407.2 L2156.5 410.0 L2157.6 412.8 L2158.7 415.6 L2159.8 418.4 L2160.8 421.2 L2161.9 424.0 M2171.5 453.5 L2171.9 455.1 L2172.7 457.9 L2173.4 460.8 L2174.1 463.6 L2174.8 466.5 L2175.2 468.1 M2180.4 492.5 L2181.1 495.4 L2181.7 498.4 L2182.4 501.3 L2183.1 504.3 L2183.8 507.2 L2184.6 510.2 L2185.3 513.2 L2186.1 516.1 L2187.0 519.1 L2187.9 522.1 L2188.8 525.1 L2189.8 528.2 L2190.9 531.2 L2192.0 534.2 L2193.1 537.2 L2194.4 540.1 L2195.8 543.0 L2197.2 545.8 L2198.8 548.5 M2212.6 562.2 L2212.9 562.4 L2215.2 562.7 L2217.5 562.4 L2219.9 561.6 L2222.1 560.2 L2224.3 558.5 L2225.8 557.0 M2231.6 549.7 L2233.1 547.3 L2234.4 544.8 L2235.6 542.1 L2236.7 539.5 L2237.7 536.7 L2238.5 533.9 L2239.3 531.0 L2240.1 528.1 L2240.7 525.1 L2241.3 522.1 L2241.8 519.0 L2242.3 515.9 L2242.8 512.8 L2243.2 509.7 L2243.6 506.5 L2244.0 503.4 L2244.4 500.2 L2244.8 497.1 L2245.2 494.0 L2245.7 490.9 L2246.2 487.8 L2246.7 484.7 L2247.3 481.7 M2256.2 451.8 L2256.7 450.3 L2257.7 447.5 L2258.6 444.7 L2259.6 441.9 L2260.5 439.1 L2261.0 437.6 M2270.9 405.0 L2271.7 402.1 L2272.5 399.3 L2273.3 396.4 L2274.1 393.5 L2274.9 390.6 L2275.7 387.7 L2276.5 384.8 L2277.2 381.9 L2278.0 379.0 L2278.8 376.1 L2279.5 373.2 L2280.3 370.3 L2281.1 367.4 L2281.8 364.5 L2282.6 361.5 M2290.6 330.9 L2291.0 329.5 L2291.8 326.6 L2292.6 323.7 L2293.4 320.8 L2294.2 317.9 L2294.6 316.5 M2301.8 292.0 L2302.7 289.2 L2303.6 286.3 L2304.5 283.5 L2305.4 280.6 L2306.3 277.8 L2307.3 275.0 L2308.3 272.2 L2309.2 269.3 L2310.2 266.5 L2311.2 263.8 L2312.2 261.0 L2313.0 258.0" fill="none" stroke="#ff0000" stroke-width="15" stroke-linejoin="round" stroke-linecap="butt" shape-rendering="crispEdges"/>
<path d="M266.0 122.5 L269.4 123.0 L272.1 123.9 L274.8 124.8 L277.5 125.7 L280.2 126.5 L282.9 127.3 L285.7 128.1 L288.5 128.9 L291.3 129.7 L294.1 130.4 L296.9 131.2 L299.8 131.9 L302.7 132.6 L305.5 133.3 L308.4 134.0 L311.3 134.7 L314.3 135.4 L317.2 136.1 L320.1 136.7 L323.1 137.4 L326.1 138.1 L329.0 138.7 L332.0 139.4 L335.0 140.0 L338.0 140.7 L341.0 141.3 L344.0 142.0 L347.0 142.6 L350.0 143.3 L353.0 143.9 L356.1 144.6 L359.1 145.3 L362.1 145.9 L365.1 146.6 L368.1 147.3 L371.1 148.0 L374.1 148.8 L377.1 149.5 L380.1 150.2 L383.1 151.0 L386.1 151.8 L389.1 152.6 L392.0 153.4 L395.0 154.2 L397.9 155.0 L400.9 155.9 L403.8 156.8 L406.7 157.7 L409.6 158.6 L412.5 159.6 L415.4 160.6 L418.3 161.6 L421.1 162.6 L423.9 163.7 L426.7 164.8 L429.5 165.9 L432.3 167.0 L435.1 168.2 L437.8 169.4 L440.5 170.7 L443.2 171.9 L445.8 173.3 L448.5 174.6 L451.1 176.0 L453.7 177.4 L456.3 178.9 L458.8 180.4 L461.3 181.9 L463.8 183.5 L466.3 185.1 L468.8 186.7 L471.2 188.3 L473.6 190.0 L476.0 191.7 L478.4 193.5 L480.8 195.3 L483.1 197.1 L485.4 198.9 L487.7 200.8 L490.0 202.6 L492.2 204.6 L494.4 206.5 L496.6 208.5 L498.8 210.4 L501.0 212.5 L503.2 214.5 L505.3 216.6 L507.4 218.6 L509.5 220.8 L511.6 222.9 L513.6 225.0 L515.7 227.2 L517.7 229.4 L519.7 231.6 L521.7 233.8 L523.7 236.1 L525.6 238.4 L527.6 240.6 L529.5 242.9 L531.4 245.3 L533.3 247.6 L535.2 249.9 L537.0 252.3 L538.9 254.7 L540.7 257.1 L542.5 259.5 L544.3 261.9 L546.1 264.3 L547.9 266.8 L549.6 269.2 L551.4 271.7 L553.1 274.1 L554.8 276.6 L556.5 279.1 L558.2 281.6 L559.9 284.1 L561.6 286.6 L563.2 289.1 L564.9 291.7 L566.5 294.2 L568.1 296.7 L569.7 299.3 L571.3 301.8 L572.9 304.4 L574.4 307.0 L576.0 309.5 L577.5 312.1 L579.1 314.7 L580.6 317.3 L582.1 319.9 L583.6 322.5 L585.1 325.1 L586.6 327.7 L588.0 330.3 L589.5 332.9 L590.9 335.5 L592.4 338.2 L593.8 340.8 L595.2 343.4 L596.6 346.1 L598.0 348.7 L599.4 351.4 L600.7 354.1 L602.1 356.7 L603.5 359.4 L604.8 362.1 L606.1 364.7 L607.4 367.4 L608.8 370.1 L610.1 372.8 L611.3 375.5 L612.6 378.2 L613.9 380.9 L615.2 383.6 L616.4 386.4 L617.7 389.1 L618.9 391.8 L620.1 394.5 L621.3 397.3 L622.6 400.0 L623.8 402.8 L624.9 405.5 L626.1 408.2 L627.3 411.0 L628.5 413.8 L629.6 416.5 L630.8 419.3 L631.9 422.1 L633.1 424.8 L634.2 427.6 L635.3 430.4 L636.4 433.2 L637.5 436.0 L638.6 438.8 L639.7 441.5 L640.8 444.3 L641.8 447.1 L642.9 449.9 L644.0 452.8 L645.0 455.6 L646.1 458.4 L647.1 461.2 L648.1 464.0 L649.2 466.8 L650.2 469.7 L651.2 472.5 L652.2 475.3 L653.2 478.1 L654.2 481.0 L655.2 483.8 L656.1 486.7 L657.1 489.5 L658.1 492.3 L659.0 495.2 L660.0 498.0 L660.9 500.9 L661.9 503.7 L662.8 506.6 L663.7 509.5 L664.7 512.3 L665.6 515.2 L666.5 518.1 L667.4 520.9 L668.3 523.8 L669.2 526.7 L670.1 529.5 L671.0 532.4 L671.9 535.3 L672.8 538.1 L673.6 541.0 L674.5 543.9 L675.4 546.8 L676.3 549.7 L677.1 552.5 L678.0 555.4 L678.8 558.3 L679.7 561.2 L680.5 564.1 L681.3 567.0 L682.2 569.9 L683.0 572.8 L683.8 575.6 L684.7 578.5 L685.5 581.4 L686.3 584.3 L687.1 587.2 L687.9 590.1 L688.7 593.0 L689.5 595.9 L690.3 598.8 L691.1 601.7 L691.9 604.6 L692.7 607.5 L693.5 610.4 L694.3 613.3 L695.1 616.2 L695.9 619.1 L696.7 622.0 L697.4 624.9 L698.2 627.8 L699.0 630.7 L699.8 633.6 L700.5 636.5 L701.3 639.4 L702.0 642.3 L702.8 645.2 L703.6 648.1 L704.3 651.0 L705.1 653.9 L705.8 656.8 L706.6 659.7 L707.3 662.6 L708.1 665.5 L708.8 668.4 L709.5 671.3 L710.3 674.2 L711.0 677.1 L711.7 680.0 L712.4 682.9 L713.2 685.8 L713.9 688.8 L714.6 691.7 L715.3 694.6 L716.0 697.5 L716.8 700.4 L717.5 703.3 L718.2 706.2 L718.9 709.1 L719.6 712.0 L720.3 714.9 L721.0 717.8 L721.7 720.8 L722.4 723.7 L723.1 726.6 L723.8 729.5 L724.5 732.4 L725.1 735.3 L725.8 738.2 L726.5 741.1 L727.2 744.1 L727.9 747.0 L728.5 749.9 L729.2 752.8 L729.9 755.7 L730.6 758.6 L731.2 761.6 L731.9 764.5 L732.6 767.4 L733.2 770.3 L733.9 773.2 L734.5 776.1 L735.2 779.1 L735.8 782.0 L736.5 784.9 L737.1 787.8 L737.8 790.7 L738.4 793.7 L739.1 796.6 L739.7 799.5 L740.4 802.4 L741.0 805.4 L741.6 808.3 L742.3 811.2 L742.9 814.1 L743.5 817.0 L744.2 820.0 L744.8 822.9 L745.4 825.8 L746.1 828.8 L746.7 831.7 L747.3 834.6 L747.9 837.5 L748.5 840.5 L749.2 843.4 L749.8 846.3 L750.4 849.2 L751.0 852.2 L751.6 855.1 L752.2 858.0 L752.8 861.0 L753.4 863.9 L754.0 866.8 L754.6 869.8 L755.2 872.7 L755.8 875.6 L756.4 878.6 L757.0 881.5 L757.6 884.4 L758.2 887.4 L758.8 890.3 L759.4 893.2 L760.0 896.2 L760.6 899.1 L761.2 902.0 L761.8 905.0 L762.4 907.9 L762.9 910.8 L763.5 913.8 L764.1 916.7 L764.7 919.7 L765.3 922.6 L765.9 925.5 L766.4 928.5 L767.0 931.4 L767.6 934.4 L768.2 937.3 L768.8 940.2 L769.4 943.2 L769.9 946.1 L770.5 949.1 L771.1 952.0 L771.7 954.9 L772.3 957.9 L772.9 960.8 L773.5 963.8 L774.1 966.7 L774.7 969.6 L775.3 972.6 L775.9 975.5 L776.5 978.5 L777.1 981.4 L777.7 984.4 L778.3 987.3 L778.9 990.2 L779.5 993.2 L780.1 996.1 L780.8 999.1 L781.4 1002.0 L782.0 1004.9 L782.6 1007.9 L783.3 1010.8 L783.9 1013.8 L784.6 1016.7 L785.2 1019.7 L785.9 1022.6 L786.5 1025.5 L787.2 1028.5 L787.8 1031.4 L788.5 1034.4 L789.2 1037.3 L789.9 1040.2 L790.5 1043.2 L791.2 1046.1 L791.9 1049.0 L792.6 1052.0 L793.3 1054.9 L794.0 1057.9 L794.8 1060.8 L795.5 1063.7 L796.2 1066.7 L796.9 1069.6 L797.7 1072.5 L798.4 1075.5 L799.2 1078.4 L799.9 1081.3 L800.7 1084.3 L801.5 1087.2 L802.3 1090.1 L803.1 1093.0 L803.9 1096.0 L804.8 1098.9 L805.7 1101.7 L806.6 1104.6 L807.6 1107.5 L808.6 1110.3 L809.7 1113.1 L810.8 1115.9 L812.0 1118.6 L813.2 1121.4 L814.5 1124.1 L815.9 1126.7 L817.3 1129.4 L818.8 1131.8 L820.3 1133.8 L821.9 1135.1 L823.5 1135.4 L825.1 1134.5 L826.7 1132.9 L828.2 1130.6 L829.7 1128.2 L831.1 1125.6 L832.5 1122.9 L833.9 1120.2 L835.2 1117.5 L836.5 1114.7 L837.8 1111.8 L839.0 1108.9 L840.2 1106.0 L841.3 1103.1 L842.5 1100.2 L843.6 1097.2 L844.7 1094.3 L845.8 1091.3 L846.8 1088.3 L847.9 1085.4 L848.9 1082.5 L850.0 1079.6 L851.0 1076.7 L852.0 1073.9 L853.0 1071.0 L854.0 1068.2 L855.1 1065.5 L856.1 1062.7 L857.1 1059.9 L858.1 1057.2 L859.1 1054.4 L860.1 1051.7 L861.1 1048.9 L862.2 1046.2 L863.2 1043.5 L864.2 1040.7 L865.2 1037.9 L866.3 1035.2 L867.3 1032.4 L868.4 1029.6 L869.4 1026.8 L870.5 1024.0 L871.5 1021.2 L872.6 1018.4 L873.7 1015.6 L874.7 1012.8 L875.8 1010.0 L876.9 1007.2 L878.0 1004.4 L879.0 1001.6 L880.1 998.8 L881.2 996.0 L882.3 993.2 L883.4 990.3 L884.5 987.5 L885.6 984.7 L886.7 981.9 L887.9 979.1 L889.0 976.3 L890.1 973.5 L891.2 970.7 L892.4 967.9 L893.5 965.1 L894.6 962.3 L895.8 959.5 L896.9 956.7 L898.1 954.0 L899.2 951.2 L900.4 948.4 L901.5 945.6 L902.7 942.9 L903.9 940.1 L905.0 937.3 L906.2 934.6 L907.4 931.8 L908.5 929.1 L909.7 926.3 L910.9 923.6 L912.1 920.8 L913.3 918.1 L914.5 915.3 L915.7 912.6 L916.9 909.9 L918.1 907.1 L919.3 904.4 L920.5 901.7 L921.7 898.9 L923.0 896.2 L924.2 893.5 L925.4 890.8 L926.6 888.1 L927.9 885.3 L929.1 882.6 L930.3 879.9 L931.6 877.2 L932.8 874.5 L934.1 871.8 L935.3 869.1 L936.6 866.3 L937.9 863.6 L939.1 860.9 L940.4 858.2 L941.7 855.5 L942.9 852.8 L944.2 850.1 L945.5 847.4 L946.8 844.7 L948.0 842.0 L949.3 839.3 L950.6 836.6 L951.9 833.9 L953.2 831.2 L954.5 828.5 L955.8 825.8 L957.1 823.1 L958.4 820.4 L959.8 817.7 L961.1 815.0 L962.4 812.3 L963.7 809.6 L965.1 806.9 L966.4 804.3 L967.7 801.6 L969.1 798.9 L970.4 796.2 L971.8 793.5 L973.1 790.8 L974.5 788.1 L975.9 785.5 L977.2 782.8 L978.6 780.1 L980.0 777.4 L981.4 774.8 L982.8 772.1 L984.2 769.4 L985.6 766.8 L987.0 764.1 L988.4 761.5 L989.8 758.8 L991.2 756.2 L992.6 753.5 L994.1 750.9 L995.5 748.2 L996.9 745.6 L998.4 742.9 L999.8 740.3 L1001.3 737.7 L1002.8 735.0 L1004.2 732.4 L1005.7 729.8 L1007.2 727.2 L1008.7 724.6 L1010.2 722.0 L1011.7 719.4 L1013.2 716.8 L1014.7 714.2 L1016.2 711.6 L1017.7 709.0 L1019.3 706.4 L1020.8 703.8 L1022.4 701.2 L1023.9 698.7 L1025.5 696.1 L1027.1 693.6 L1028.6 691.0 L1030.2 688.4 L1031.8 685.9 L1033.4 683.4 L1035.0 680.8 L1036.6 678.3 L1038.2 675.8 L1039.9 673.3 L1041.5 670.7 L1043.1 668.2 L1044.8 665.7 L1046.5 663.2 L1048.1 660.7 L1049.8 658.3 L1051.5 655.8 L1053.2 653.3 L1054.9 650.8 L1056.6 648.4 L1058.3 645.9 L1060.0 643.5 L1061.7 641.0 L1063.5 638.6 L1065.2 636.2 L1067.0 633.8 L1068.8 631.3 L1070.5 628.9 L1072.3 626.5 L1074.1 624.1 L1075.9 621.8 L1077.7 619.4 L1079.6 617.0 L1081.4 614.6 L1083.2 612.3 L1085.1 609.9 L1086.9 607.6 L1088.8 605.3 L1090.7 602.9 L1092.6 600.6 L1094.5 598.3 L1096.4 596.0 L1098.3 593.7 L1100.2 591.4 L1102.2 589.1 L1104.1 586.9 L1106.1 584.6 L1108.0 582.4 L1110.0 580.1 L1112.0 577.9 L1114.0 575.7 L1116.0 573.4 L1118.0 571.2 L1120.1 569.0 L1122.1 566.9 L1124.2 564.7 L1126.2 562.5 L1128.3 560.3 L1130.4 558.2 L1132.5 556.0 L1134.6 553.9 L1136.7 551.8 L1138.8 549.7 L1140.9 547.5 L1143.1 545.5 L1145.2 543.4 L1147.4 541.3 L1149.6 539.2 L1151.7 537.1 L1153.9 535.1 L1156.1 533.0 L1158.3 531.0 L1160.5 529.0 L1162.8 527.0 L1165.0 525.0 L1167.2 523.0 L1169.5 521.0 L1171.8 519.0 L1174.0 517.0 L1176.3 515.1 L1178.6 513.1 L1180.9 511.2 L1183.2 509.3 L1185.5 507.3 L1187.8 505.4 L1190.1 503.5 L1192.5 501.6 L1194.8 499.8 L1197.2 497.9 L1199.5 496.0 L1201.9 494.2 L1204.3 492.3 L1206.6 490.5 L1209.0 488.7 L1211.4 486.9 L1213.8 485.1 L1216.2 483.3 L1218.7 481.5 L1221.1 479.7 L1223.5 478.0 L1226.0 476.2 L1228.4 474.5 L1230.9 472.7 L1233.3 471.0 L1235.8 469.3 L1238.3 467.6 L1240.8 465.9 L1243.2 464.2 L1245.7 462.6 L1248.2 460.9 L1250.8 459.3 L1253.3 457.6 L1255.8 456.0 L1258.3 454.4 L1260.9 452.8 L1263.4 451.2 L1265.9 449.6 L1268.5 448.0 L1271.1 446.5 L1273.6 444.9 L1276.2 443.4 L1278.8 441.8 L1281.4 440.3 L1283.9 438.8 L1286.5 437.3 L1289.1 435.8 L1291.7 434.3 L1294.3 432.9 L1297.0 431.4 L1299.6 430.0 L1302.2 428.5 L1304.8 427.1 L1307.5 425.7 L1310.1 424.3 L1312.8 422.9 L1315.4 421.5 L1318.1 420.1 L1320.7 418.8 L1323.4 417.4 L1326.1 416.1 L1328.7 414.8 L1331.4 413.5 L1334.1 412.2 L1336.8 410.9 L1339.5 409.6 L1342.2 408.3 L1344.9 407.1 L1347.6 405.8 L1350.3 404.6 L1353.0 403.4 L1355.7 402.2 L1358.4 401.0 L1361.2 399.8 L1363.9 398.6 L1366.6 397.5 L1369.4 396.3 L1372.1 395.2 L1374.8 394.0 L1377.6 392.9 L1380.3 391.8 L1383.1 390.7 L1385.9 389.6 L1388.6 388.5 L1391.4 387.4 L1394.1 386.3 L1396.9 385.3 L1399.7 384.2 L1402.5 383.1 L1405.3 382.1 L1408.0 381.0 L1410.8 380.0 L1413.6 379.0 L1416.4 378.0 L1419.2 376.9 L1422.0 375.9 L1424.8 374.9 L1427.6 373.9 L1430.4 372.9 L1433.2 371.9 L1436.1 370.9 L1438.9 369.9 L1441.7 368.9 L1444.5 367.9 L1447.4 367.0 L1450.2 366.0 L1453.0 365.0 L1455.9 364.0 L1458.7 363.0 L1461.5 362.1 L1464.4 361.1 L1467.2 360.1 L1470.1 359.1 L1473.0 358.1 L1475.8 357.2 L1478.7 356.2 L1481.5 355.2 L1484.4 354.2 L1487.3 353.2 L1490.1 352.2 L1493.0 351.2 L1495.9 350.2 L1498.8 349.2 L1501.6 348.2 L1504.5 347.2 L1507.4 346.2 L1510.3 345.2 L1513.2 344.2 L1516.1 343.2 L1519.0 342.2 L1521.9 341.2 L1524.8 340.1 L1527.7 339.1 L1530.6 338.1 L1533.5 337.1 L1536.4 336.1 L1539.3 335.1 L1542.2 334.2 L1545.1 333.2 L1548.1 332.2 L1551.0 331.3 L1553.9 330.3 L1556.8 329.4 L1559.7 328.5 L1562.6 327.6 L1565.6 326.7 L1568.5 325.9 L1571.4 325.0 L1574.3 324.2 L1577.3 323.4 L1580.2 322.6 L1583.1 321.9 L1586.1 321.1 L1589.0 320.4 L1591.9 319.7 L1594.9 319.1 L1597.8 318.4 L1600.7 317.8 L1603.7 317.2 L1606.6 316.7 L1609.5 316.2 L1612.5 315.7 L1615.4 315.2 L1618.3 314.8 L1621.3 314.4 L1624.2 314.1 L1627.2 313.8 L1630.1 313.5 L1633.0 313.3 L1636.0 313.1 L1638.9 312.9 L1641.8 312.8 L1644.8 312.8 L1647.7 312.7 L1650.6 312.8 L1653.6 312.8 L1656.5 313.0 L1659.4 313.1 L1662.4 313.3 L1665.3 313.6 L1668.2 313.9 L1671.1 314.2 L1674.1 314.6 L1677.0 315.0 L1679.9 315.5 L1682.8 316.0 L1685.7 316.6 L1688.6 317.2 L1691.5 317.8 L1694.4 318.5 L1697.2 319.2 L1700.1 320.0 L1703.0 320.8 L1705.8 321.7 L1708.7 322.5 L1711.5 323.5 L1714.3 324.4 L1717.2 325.4 L1720.0 326.4 L1722.8 327.5 L1725.5 328.6 L1728.3 329.7 L1731.1 330.9 L1733.8 332.1 L1736.6 333.4 L1739.3 334.7 L1742.0 336.0 L1744.7 337.3 L1747.4 338.7 L1750.0 340.1 L1752.7 341.5 L1755.3 343.0 L1757.9 344.5 L1760.5 346.1 L1763.1 347.6 L1765.7 349.2 L1768.2 350.9 L1770.7 352.5 L1773.2 354.2 L1775.7 355.9 L1778.2 357.6 L1780.6 359.4 L1783.1 361.2 L1785.5 363.0 L1787.9 364.9 L1790.2 366.7 L1792.6 368.6 L1794.9 370.5 L1797.2 372.5 L1799.5 374.5 L1801.7 376.5 L1803.9 378.5 L1806.1 380.5 L1808.3 382.6 L1810.4 384.6 L1812.6 386.8 L1814.7 388.9 L1816.7 391.0 L1818.8 393.2 L1820.8 395.4 L1822.8 397.6 L1824.8 399.8 L1826.8 402.0 L1828.8 404.3 L1830.7 406.6 L1832.6 408.9 L1834.5 411.2 L1836.3 413.5 L1838.2 415.9 L1840.0 418.2 L1841.8 420.6 L1843.6 423.0 L1845.4 425.4 L1847.1 427.9 L1848.9 430.3 L1850.6 432.8 L1852.3 435.2 L1854.0 437.7 L1855.6 440.2 L1857.3 442.7 L1858.9 445.2 L1860.5 447.8 L1862.1 450.3 L1863.7 452.9 L1865.3 455.5 L1866.8 458.0 L1868.4 460.6 L1869.9 463.2 L1871.4 465.8 L1872.9 468.4 L1874.4 471.1 L1875.9 473.7 L1877.3 476.3 L1878.8 479.0 L1880.2 481.6 L1881.6 484.3 L1883.1 487.0 L1884.5 489.7 L1885.8 492.3 L1887.2 495.0 L1888.6 497.7 L1890.0 500.4 L1891.3 503.1 L1892.7 505.8 L1894.0 508.5 L1895.3 511.2 L1896.6 514.0 L1897.9 516.7 L1899.2 519.4 L1900.5 522.1 L1901.8 524.8 L1903.1 527.6 L1904.4 530.3 L1905.6 533.0 L1906.9 535.8 L1908.1 538.5 L1909.3 541.3 L1910.6 544.0 L1911.8 546.8 L1913.0 549.5 L1914.2 552.3 L1915.4 555.0 L1916.6 557.8 L1917.8 560.5 L1918.9 563.3 L1920.1 566.1 L1921.2 568.9 L1922.4 571.6 L1923.5 574.4 L1924.7 577.2 L1925.8 580.0 L1926.9 582.7 L1928.0 585.5 L1929.1 588.3 L1930.2 591.1 L1931.3 593.9 L1932.4 596.7 L1933.4 599.5 L1934.5 602.3 L1935.5 605.1 L1936.6 607.9 L1937.6 610.7 L1938.7 613.5 L1939.7 616.4 L1940.7 619.2 L1941.7 622.0 L1942.7 624.8 L1943.7 627.6 L1944.7 630.5 L1945.7 633.3 L1946.7 636.1 L1947.7 638.9 L1948.6 641.8 L1949.6 644.6 L1950.5 647.4 L1951.5 650.3 L1952.4 653.1 L1953.4 656.0 L1954.3 658.8 L1955.2 661.7 L1956.1 664.5 L1957.0 667.4 L1957.9 670.2 L1958.8 673.1 L1959.7 675.9 L1960.6 678.8 L1961.4 681.7 L1962.3 684.5 L1963.2 687.4 L1964.0 690.3 L1964.9 693.1 L1965.7 696.0 L1966.6 698.9 L1967.4 701.7 L1968.2 704.6 L1969.0 707.5 L1969.8 710.4 L1970.7 713.3 L1971.5 716.1 L1972.3 719.0 L1973.0 721.9 L1973.8 724.8 L1974.6 727.7 L1975.4 730.6 L1976.1 733.5 L1976.9 736.4 L1977.7 739.3 L1978.4 742.1 L1979.2 745.0 L1979.9 747.9 L1980.6 750.8 L1981.4 753.8 L1982.1 756.7 L1982.8 759.6 L1983.5 762.5 L1984.2 765.4 L1984.9 768.3 L1985.6 771.2 L1986.3 774.1 L1987.0 777.0 L1987.7 779.9 L1988.4 782.8 L1989.0 785.8 L1989.7 788.7 L1990.4 791.6 L1991.0 794.5 L1991.7 797.4 L1992.3 800.4 L1993.0 803.3 L1993.6 806.2 L1994.2 809.1 L1994.9 812.1 L1995.5 815.0 L1996.1 817.9 L1996.7 820.9 L1997.3 823.8 L1997.9 826.7 L1998.5 829.6 L1999.1 832.6 L1999.7 835.5 L2000.3 838.5 L2000.9 841.4 L2001.5 844.3 L2002.1 847.3 L2002.6 850.2 L2003.2 853.1 L2003.8 856.1 L2004.3 859.0 L2004.9 862.0 L2005.4 864.9 L2006.0 867.9 L2006.5 870.8 L2007.0 873.8 L2007.6 876.7 L2008.1 879.7 L2008.6 882.6 L2009.2 885.6 L2009.7 888.5 L2010.2 891.5 L2010.7 894.4 L2011.2 897.4 L2011.7 900.3 L2012.2 903.3 L2012.7 906.2 L2013.2 909.2 L2013.7 912.2 L2014.2 915.1 L2014.6 918.1 L2015.1 921.0 L2015.6 924.0 L2016.1 927.0 L2016.5 929.9 L2017.0 932.9 L2017.5 935.8 L2017.9 938.8 L2018.4 941.8 L2018.8 944.7 L2019.3 947.7 L2019.7 950.7 L2020.2 953.6 L2020.6 956.6 L2021.0 959.6 L2021.5 962.5 L2021.9 965.5 L2022.3 968.5 L2022.7 971.4 L2023.1 974.4 L2023.6 977.4 L2024.0 980.4 L2024.4 983.3 L2024.8 986.3 L2025.2 989.3 L2025.6 992.3 L2026.0 995.2 L2026.4 998.2 L2026.8 1001.2 L2027.2 1004.2 L2027.6 1007.1 L2028.0 1010.1 L2028.3 1013.1 L2028.7 1016.1 L2029.1 1019.0 L2029.5 1022.0 L2029.8 1025.0 L2030.2 1028.0 L2030.6 1031.0 L2030.9 1033.9 L2031.3 1036.9 L2031.7 1039.9 L2032.0 1042.9 L2032.4 1045.9 L2032.7 1048.8 L2033.1 1051.8 L2033.4 1054.8 L2033.8 1057.8 L2034.1 1060.8 L2034.5 1063.7 L2034.8 1066.7 L2035.2 1069.7 L2035.5 1072.7 L2035.8 1075.7 L2036.2 1078.7 L2036.5 1081.6 L2036.8 1084.6 L2037.1 1087.6 L2037.5 1090.6 L2037.8 1093.6 L2038.1 1096.6 L2038.4 1099.5 L2038.8 1102.5 L2039.1 1105.5 L2039.4 1108.5 L2039.7 1111.5 L2040.0 1114.5 L2040.3 1117.4 L2040.6 1120.4 L2040.9 1123.4 L2041.3 1126.4 L2041.6 1129.4 L2041.9 1132.4 L2042.2 1135.3 L2042.5 1138.3 L2042.8 1141.3 L2043.1 1144.3 L2043.3 1147.3 L2043.6 1150.3 L2043.9 1153.2 L2044.2 1156.2 L2044.5 1159.2 L2044.8 1162.2 L2045.1 1165.2 L2045.4 1168.2 L2045.6 1171.1 L2045.9 1174.1 L2046.2 1177.1 L2046.5 1180.1 L2046.8 1183.1 L2047.0 1186.0 L2047.3 1189.0 L2047.6 1192.0 L2047.8 1195.0 L2048.1 1198.0 L2048.4 1201.0 L2048.6 1203.9 L2048.9 1206.9 L2049.2 1209.9 L2049.4 1212.9 L2049.7 1215.8 L2050.0 1218.8 L2050.2 1221.8 L2050.5 1224.8 L2050.7 1227.8 L2051.0 1230.7 L2051.2 1233.7 L2051.5 1236.7 L2051.7 1239.7 L2052.0 1242.6 L2052.2 1245.6 L2052.5 1248.6 L2052.7 1251.6 L2052.9 1254.5 L2053.2 1257.5 L2053.4 1260.5 L2053.7 1263.5 L2053.9 1266.4 L2054.1 1269.4 L2054.4 1272.4 L2054.6 1275.3 L2054.8 1278.3 L2055.1 1281.3 L2055.3 1284.2 L2055.5 1287.2 L2055.7 1290.2 L2056.0 1293.1 L2056.2 1296.1 L2056.4 1299.1 L2056.6 1302.0 L2056.8 1305.0 L2057.1 1308.0 L2057.3 1311.0 L2057.5 1314.0 L2057.7 1316.9 L2057.9 1319.9 L2058.1 1322.9 L2058.3 1325.9 L2058.4 1328.9 L2058.6 1332.0 L2058.8 1335.0 L2059.0 1338.0 L2059.1 1341.1 L2059.3 1344.1 L2059.5 1347.2 L2059.6 1350.3 L2059.7 1353.4 L2059.9 1356.4 L2060.0 1359.6 L2060.1 1362.7 L2060.2 1365.8 L2060.4 1369.0 L2060.5 1372.1 L2060.6 1375.3 L2060.8 1378.4 L2061.0 1381.5 L2061.3 1384.6 L2061.7 1387.7 L2062.1 1390.7 L2062.6 1393.6 L2063.2 1396.6 L2064.0 1399.4 L2064.8 1402.2 L2065.8 1404.6 L2066.8 1406.5 L2067.8 1407.6 L2068.8 1407.8 L2069.7 1406.8 L2070.6 1405.1 L2071.4 1402.8 L2072.2 1400.1 L2072.7 1397.3 L2073.2 1394.3 L2073.6 1391.3 L2073.9 1388.1 L2074.1 1384.9 L2074.3 1381.7 L2074.4 1378.4 L2074.4 1375.1 L2074.5 1371.8 L2074.5 1368.5 L2074.5 1365.3 L2074.5 1362.1 L2074.5 1358.9 L2074.6 1355.8 L2074.6 1352.7 L2074.7 1349.7 L2074.8 1346.7 L2074.9 1343.7 L2075.0 1340.7 L2075.2 1337.8 L2075.3 1334.9 L2075.5 1332.0 L2075.6 1329.0 L2075.8 1326.1 L2076.0 1323.2 L2076.2 1320.3 L2076.4 1317.4 L2076.7 1314.4 L2076.9 1311.5 L2077.2 1308.5 L2077.4 1305.6 L2077.7 1302.6 L2078.0 1299.7 L2078.3 1296.7 L2078.6 1293.8 L2078.8 1290.8 L2079.1 1287.8 L2079.4 1284.8 L2079.8 1281.9 L2080.1 1278.9 L2080.4 1275.9 L2080.7 1272.9 L2081.0 1269.9 L2081.3 1266.9 L2081.6 1263.9 L2081.9 1261.0 L2082.2 1258.0 L2082.5 1255.0 L2082.8 1252.0 L2083.1 1249.0 L2083.3 1246.0 L2083.6 1243.0 L2083.9 1240.0 L2084.1 1237.0 L2084.4 1234.0 L2084.7 1231.0 L2084.9 1228.0 L2085.2 1225.0 L2085.4 1222.0 L2085.6 1219.0 L2085.9 1216.0 L2086.1 1213.0 L2086.3 1210.1 L2086.5 1207.1 L2086.8 1204.1 L2087.0 1201.1 L2087.2 1198.1 L2087.4 1195.1 L2087.6 1192.1 L2087.8 1189.1 L2088.0 1186.1 L2088.2 1183.1 L2088.4 1180.1 L2088.6 1177.1 L2088.8 1174.1 L2089.0 1171.1 L2089.2 1168.1 L2089.4 1165.1 L2089.6 1162.1 L2089.8 1159.2 L2090.0 1156.2 L2090.2 1153.2 L2090.4 1150.2 L2090.6 1147.2 L2090.8 1144.2 L2091.0 1141.2 L2091.2 1138.2 L2091.5 1135.2 L2091.7 1132.2 L2091.9 1129.2 L2092.1 1126.2 L2092.3 1123.3 L2092.5 1120.3 L2092.7 1117.3 L2093.0 1114.3 L2093.2 1111.3 L2093.4 1108.3 L2093.6 1105.3 L2093.9 1102.3 L2094.1 1099.3 L2094.4 1096.4 L2094.6 1093.4 L2094.9 1090.4 L2095.1 1087.4 L2095.4 1084.4 L2095.6 1081.4 L2095.9 1078.5 L2096.2 1075.5 L2096.4 1072.5 L2096.7 1069.5 L2097.0 1066.5 L2097.3 1063.5 L2097.6 1060.6 L2097.9 1057.6 L2098.2 1054.6 L2098.5 1051.6 L2098.8 1048.6 L2099.1 1045.7 L2099.4 1042.7 L2099.7 1039.7 L2100.0 1036.7 L2100.4 1033.8 L2100.7 1030.8 L2101.0 1027.8 L2101.4 1024.8 L2101.7 1021.9 L2102.1 1018.9 L2102.4 1015.9 L2102.7 1012.9 L2103.1 1010.0 L2103.5 1007.0 L2103.8 1004.0 L2104.2 1001.0 L2104.5 998.1 L2104.9 995.1 L2105.3 992.1 L2105.7 989.2 L2106.0 986.2 L2106.4 983.2 L2106.8 980.2 L2107.2 977.3 L2107.6 974.3 L2108.0 971.3 L2108.4 968.4 L2108.8 965.4 L2109.2 962.4 L2109.6 959.5 L2110.0 956.5 L2110.4 953.5 L2110.8 950.6 L2111.2 947.6 L2111.7 944.6 L2112.1 941.7 L2112.5 938.7 L2113.0 935.7 L2113.4 932.8 L2113.8 929.8 L2114.3 926.8 L2114.7 923.9 L2115.1 920.9 L2115.6 918.0 L2116.0 915.0 L2116.5 912.0 L2116.9 909.1 L2117.4 906.1 L2117.9 903.1 L2118.3 900.2 L2118.8 897.2 L2119.2 894.3 L2119.7 891.3 L2120.2 888.3 L2120.7 885.4 L2121.1 882.4 L2121.6 879.5 L2122.1 876.5 L2122.6 873.5 L2123.1 870.6 L2123.5 867.6 L2124.0 864.7 L2124.5 861.7 L2125.0 858.8 L2125.5 855.8 L2126.0 852.8 L2126.5 849.9 L2127.0 846.9 L2127.5 844.0 L2128.0 841.0 L2128.5 838.1 L2129.0 835.1 L2129.5 832.1 L2130.0 829.2 L2130.6 826.2 L2131.1 823.3 L2131.6 820.3 L2132.1 817.4 L2132.6 814.4 L2133.2 811.5 L2133.7 808.5 L2134.2 805.6 L2134.7 802.6 L2135.3 799.6 L2135.8 796.7 L2136.3 793.7 L2136.9 790.8 L2137.4 787.8 L2137.9 784.9 L2138.5 781.9 L2139.0 779.0 L2139.6 776.0 L2140.1 773.1 L2140.6 770.1 L2141.2 767.2 L2141.7 764.2 L2142.3 761.3 L2142.8 758.3 L2143.4 755.4 L2143.9 752.4 L2144.5 749.5 L2145.1 746.5 L2145.6 743.6 L2146.2 740.6 L2146.7 737.7 L2147.3 734.7 L2147.9 731.8 L2148.5 728.8 L2149.0 725.9 L2149.6 722.9 L2150.2 720.0 L2150.8 717.0 L2151.4 714.1 L2151.9 711.2 L2152.5 708.2 L2153.1 705.3 L2153.7 702.3 L2154.3 699.4 L2154.9 696.5 L2155.5 693.5 L2156.1 690.6 L2156.8 687.6 L2157.4 684.7 L2158.0 681.8 L2158.6 678.8 L2159.2 675.9 L2159.9 673.0 L2160.5 670.0 L2161.1 667.1 L2161.8 664.2 L2162.4 661.2 L2163.1 658.3 L2163.7 655.4 L2164.4 652.5 L2165.1 649.5 L2165.7 646.6 L2166.4 643.7 L2167.1 640.8 L2167.8 637.8 L2168.4 634.9 L2169.1 632.0 L2169.8 629.1 L2170.5 626.2 L2171.2 623.3 L2171.9 620.4 L2172.6 617.4 L2173.4 614.5 L2174.1 611.6 L2174.8 608.7 L2175.5 605.8 L2176.3 602.9 L2177.0 600.0 L2177.8 597.1 L2178.5 594.2 L2179.3 591.3 L2180.0 588.4 L2180.8 585.5 L2181.6 582.6 L2182.4 579.7 L2183.2 576.8 L2184.0 573.9 L2184.8 571.1 L2185.6 568.2 L2186.4 565.3 L2187.2 562.4 L2188.0 559.5 L2188.9 556.7 L2189.7 553.8 L2190.5 550.9 L2191.4 548.0 L2192.2 545.2 L2193.1 542.3 L2194.0 539.4 L2194.8 536.6 L2195.7 533.7 L2196.6 530.8 L2197.5 528.0 L2198.4 525.1 L2199.3 522.3 L2200.3 519.4 L2201.2 516.6 L2202.1 513.7 L2203.0 510.9 L2204.0 508.0 L2204.9 505.2 L2205.9 502.3 L2206.9 499.5 L2207.9 496.7 L2208.8 493.8 L2209.8 491.0 L2210.8 488.2 L2211.8 485.4 L2212.9 482.5 L2213.9 479.7 L2214.9 476.9 L2216.0 474.1 L2217.0 471.3 L2218.1 468.5 L2219.1 465.7 L2220.2 462.9 L2221.3 460.1 L2222.4 457.3 L2223.5 454.5 L2224.7 451.7 L2225.8 448.9 L2226.9 446.2 L2228.1 443.4 L2229.3 440.6 L2230.5 437.9 L2231.7 435.1 L2232.9 432.4 L2234.1 429.7 L2235.3 426.9 L2236.6 424.2 L2237.9 421.5 L2239.2 418.8 L2240.5 416.1 L2241.8 413.4 L2243.1 410.8 L2244.5 408.1 L2245.8 405.5 L2247.2 402.8 L2248.6 400.2 L2250.0 397.6 L2251.5 394.9 L2252.9 392.3 L2254.4 389.8 L2255.9 387.2 L2257.4 384.6 L2259.0 382.1 L2260.5 379.5 L2262.1 377.0 L2263.7 374.5 L2265.3 372.0 L2267.0 369.5 L2268.6 367.0 L2270.3 364.5 L2272.0 362.1 L2273.8 359.6 L2275.5 357.2 L2277.3 354.8 L2279.1 352.4 L2280.9 350.0 L2282.8 347.7 L2284.6 345.3 L2286.5 343.0 L2288.5 340.7 L2290.4 338.4 L2292.4 336.1 L2294.4 333.9 L2296.4 331.6 L2298.5 329.4 L2300.6 327.2 L2302.7 325.0 L2304.8 322.8 L2307.0 320.7 L2309.2 318.5 L2311.4 316.4 L2313.0 314.0" fill="none" stroke="#000000" stroke-width="15" stroke-linejoin="round" stroke-linecap="butt" shape-rendering="crispEdges"/>
<path d="M266.0 68.0 L269.1 68.2 L272.0 67.8 L275.0 67.4 L277.9 67.0 L280.9 66.7 L283.9 66.3 L286.8 66.0 L289.8 65.6 L292.8 65.3 L295.8 65.0 L298.8 64.7 L301.7 64.4 L304.7 64.1 L307.7 63.8 L310.7 63.5 L313.7 63.2 L316.7 63.0 L319.6 62.7 L322.6 62.4 L325.6 62.2 L328.6 62.0 L331.6 61.8 L334.6 61.6 L337.6 61.4 L340.6 61.2 L343.6 61.0 L346.6 60.8 L349.6 60.7 L352.6 60.5 L355.6 60.4 L358.6 60.2 L361.6 60.1 L364.6 60.0 L367.6 59.9 L370.6 59.8 L373.6 59.8 L376.6 59.7 L379.6 59.6 L382.6 59.6 L385.6 59.6 L388.6 59.6 L391.6 59.5 L394.6 59.6 L397.6 59.6 L400.6 59.6 L403.6 59.6 L406.6 59.7 L409.6 59.8 L412.6 59.8 L415.6 59.9 L418.6 60.0 L421.6 60.2 L424.6 60.3 L427.5 60.4 L430.5 60.6 L433.5 60.8 L436.5 60.9 L439.5 61.1 L442.5 61.3 L445.5 61.6 L448.5 61.8 L451.4 62.1 L454.4 62.3 L457.4 62.6 L460.4 62.9 L463.3 63.2 L466.3 63.5 L469.3 63.9 L472.2 64.2 L475.2 64.6 L478.2 65.0 L481.1 65.4 L484.1 65.8 L487.0 66.2 L490.0 66.7 L493.0 67.1 L495.9 67.6 L498.8 68.1 L501.8 68.6 L504.7 69.1 L507.7 69.7 L510.6 70.2 L513.5 70.8 L516.5 71.4 L519.4 72.0 L522.3 72.6 L525.2 73.2 L528.1 73.9 L531.1 74.6 L534.0 75.2 L536.9 75.9 L539.8 76.7 L542.7 77.4 L545.6 78.1 L548.5 78.9 L551.4 79.6 L554.3 80.4 L557.2 81.2 L560.0 82.0 L562.9 82.8 L565.8 83.6 L568.7 84.5 L571.6 85.3 L574.4 86.2 L577.3 87.0 L580.2 87.9 L583.1 88.8 L585.9 89.7 L588.8 90.6 L591.7 91.5 L594.5 92.4 L597.4 93.3 L600.3 94.2 L603.1 95.1 L606.0 96.1 L608.9 97.0 L611.7 97.9 L614.6 98.9 L617.4 99.8 L620.3 100.8 L623.1 101.7 L626.0 102.7 L628.9 103.7 L631.7 104.6 L634.6 105.6 L637.4 106.5 L640.3 107.5 L643.1 108.5 L646.0 109.4 L648.8 110.4 L651.7 111.4 L654.5 112.3 L657.4 113.3 L660.3 114.2 L663.1 115.2 L666.0 116.1 L668.8 117.1 L671.7 118.0 L674.5 119.0 L677.4 119.9 L680.3 120.8 L683.1 121.8 L686.0 122.7 L688.8 123.6 L691.7 124.5 L694.6 125.4 L697.4 126.3 L700.3 127.2 L703.2 128.1 L706.0 128.9 L708.9 129.8 L711.8 130.7 L714.6 131.5 L717.5 132.3 L720.4 133.2 L723.3 134.0 L726.2 134.8 L729.0 135.6 L731.9 136.4 L734.8 137.1 L737.7 137.9 L740.6 138.7 L743.5 139.4 L746.4 140.2 L749.3 140.9 L752.1 141.6 L755.0 142.4 L757.9 143.1 L760.8 143.8 L763.7 144.5 L766.6 145.2 L769.5 145.9 L772.5 146.5 L775.4 147.2 L778.3 147.9 L781.2 148.6 L784.1 149.2 L787.0 149.9 L789.9 150.5 L792.8 151.2 L795.7 151.8 L798.7 152.4 L801.6 153.1 L804.5 153.7 L807.4 154.3 L810.3 154.9 L813.3 155.5 L816.2 156.1 L819.1 156.7 L822.0 157.3 L825.0 157.9 L827.9 158.5 L830.8 159.1 L833.8 159.7 L836.7 160.3 L839.6 160.9 L842.6 161.5 L845.5 162.0 L848.5 162.6 L851.4 163.2 L854.3 163.8 L857.3 164.3 L860.2 164.9 L863.2 165.5 L866.1 166.1 L869.1 166.6 L872.0 167.2 L875.0 167.8 L877.9 168.3 L880.9 168.9 L883.8 169.5 L886.8 170.0 L889.7 170.6 L892.7 171.2 L895.6 171.8 L898.6 172.3 L901.5 172.9 L904.5 173.5 L907.4 174.1 L910.4 174.6 L913.3 175.2 L916.3 175.8 L919.2 176.4 L922.2 177.0 L925.1 177.6 L928.1 178.2 L931.0 178.8 L934.0 179.4 L936.9 180.0 L939.9 180.6 L942.8 181.2 L945.8 181.8 L948.7 182.4 L951.7 183.1 L954.6 183.7 L957.6 184.3 L960.5 185.0 L963.4 185.6 L966.4 186.3 L969.3 186.9 L972.2 187.6 L975.2 188.2 L978.1 188.9 L981.0 189.6 L984.0 190.3 L986.9 190.9 L989.8 191.6 L992.7 192.3 L995.6 193.0 L998.5 193.8 L1001.5 194.5 L1004.4 195.2 L1007.3 195.9 L1010.2 196.7 L1013.1 197.4 L1016.0 198.2 L1018.9 199.0 L1021.8 199.7 L1024.7 200.5 L1027.6 201.3 L1030.4 202.1 L1033.3 202.9 L1036.2 203.7 L1039.1 204.6 L1041.9 205.4 L1044.8 206.3 L1047.7 207.1 L1050.5 208.0 L1053.4 208.8 L1056.2 209.7 L1059.1 210.6 L1061.9 211.5 L1064.8 212.4 L1067.6 213.3 L1070.5 214.2 L1073.3 215.2 L1076.1 216.1 L1079.0 217.0 L1081.8 217.9 L1084.6 218.9 L1087.5 219.8 L1090.3 220.8 L1093.1 221.7 L1096.0 222.7 L1098.8 223.6 L1101.6 224.6 L1104.4 225.6 L1107.3 226.5 L1110.1 227.5 L1112.9 228.4 L1115.7 229.4 L1118.5 230.4 L1121.4 231.3 L1124.2 232.3 L1127.0 233.3 L1129.8 234.2 L1132.6 235.2 L1135.5 236.1 L1138.3 237.1 L1141.1 238.1 L1143.9 239.0 L1146.8 240.0 L1149.6 240.9 L1152.4 241.8 L1155.2 242.8 L1158.1 243.7 L1160.9 244.6 L1163.7 245.6 L1166.6 246.5 L1169.4 247.4 L1172.2 248.3 L1175.1 249.2 L1177.9 250.1 L1180.8 250.9 L1183.6 251.8 L1186.5 252.7 L1189.3 253.5 L1192.2 254.4 L1195.0 255.2 L1197.9 256.0 L1200.8 256.9 L1203.6 257.7 L1206.5 258.5 L1209.4 259.2 L1212.3 260.0 L1215.2 260.8 L1218.1 261.5 L1220.9 262.3 L1223.8 263.0 L1226.7 263.7 L1229.7 264.4 L1232.6 265.1 L1235.5 265.8 L1238.4 266.4 L1241.3 267.1 L1244.3 267.7 L1247.2 268.3 L1250.1 268.9 L1253.1 269.5 L1256.0 270.1 L1259.0 270.6 L1261.9 271.2 L1264.9 271.7 L1267.9 272.2 L1270.8 272.7 L1273.8 273.2 L1276.8 273.7 L1279.8 274.2 L1282.8 274.7 L1285.7 275.1 L1288.7 275.6 L1291.7 276.0 L1294.7 276.4 L1297.7 276.9 L1300.7 277.3 L1303.7 277.7 L1306.7 278.1 L1309.7 278.5 L1312.7 278.9 L1315.8 279.3 L1318.8 279.6 L1321.8 280.0 L1324.8 280.4 L1327.8 280.7 L1330.8 281.1 L1333.8 281.4 L1336.9 281.8 L1339.9 282.1 L1342.9 282.5 L1345.9 282.8 L1348.9 283.2 L1352.0 283.5 L1355.0 283.9 L1358.0 284.2 L1361.0 284.5 L1364.1 284.9 L1367.1 285.2 L1370.1 285.5 L1373.1 285.9 L1376.1 286.2 L1379.1 286.6 L1382.2 286.9 L1385.2 287.3 L1388.2 287.6 L1391.2 288.0 L1394.2 288.3 L1397.2 288.7 L1400.2 289.1 L1403.2 289.4 L1406.2 289.8 L1409.2 290.2 L1412.2 290.6 L1415.2 291.0 L1418.2 291.4 L1421.2 291.8 L1424.2 292.2 L1427.2 292.6 L1430.1 293.0 L1433.1 293.5 L1436.1 293.9 L1439.1 294.4 L1442.0 294.9 L1445.0 295.3 L1447.9 295.8 L1450.9 296.3 L1453.8 296.8 L1456.8 297.3 L1459.7 297.9 L1462.6 298.4 L1465.6 299.0 L1468.5 299.6 L1471.4 300.1 L1474.3 300.7 L1477.2 301.3 L1480.1 302.0 L1483.0 302.6 L1485.9 303.3 L1488.8 303.9 L1491.7 304.6 L1494.5 305.3 L1497.4 306.0 L1500.3 306.8 L1503.1 307.5 L1506.0 308.3 L1508.8 309.1 L1511.6 309.9 L1514.5 310.7 L1517.3 311.6 L1520.1 312.4 L1522.9 313.3 L1525.7 314.2 L1528.5 315.2 L1531.2 316.1 L1534.0 317.1 L1536.8 318.1 L1539.5 319.1 L1542.3 320.1 L1545.0 321.2 L1547.7 322.3 L1550.4 323.4 L1553.1 324.5 L1555.8 325.6 L1558.5 326.8 L1561.2 328.0 L1563.9 329.2 L1566.5 330.5 L1569.2 331.7 L1571.8 333.0 L1574.5 334.3 L1577.1 335.7 L1579.7 337.0 L1582.3 338.4 L1584.9 339.8 L1587.5 341.2 L1590.1 342.6 L1592.7 344.1 L1595.3 345.5 L1597.8 347.0 L1600.4 348.5 L1602.9 350.1 L1605.4 351.6 L1607.9 353.2 L1610.5 354.8 L1613.0 356.4 L1615.5 358.0 L1617.9 359.6 L1620.4 361.3 L1622.9 363.0 L1625.3 364.7 L1627.8 366.4 L1630.2 368.1 L1632.7 369.8 L1635.1 371.6 L1637.5 373.4 L1639.9 375.2 L1642.3 377.0 L1644.7 378.8 L1647.1 380.6 L1649.4 382.5 L1651.8 384.4 L1654.2 386.2 L1656.5 388.1 L1658.8 390.1 L1661.2 392.0 L1663.5 393.9 L1665.8 395.9 L1668.1 397.9 L1670.4 399.8 L1672.7 401.8 L1674.9 403.8 L1677.2 405.9 L1679.4 407.9 L1681.7 410.0 L1683.9 412.0 L1686.2 414.1 L1688.4 416.2 L1690.6 418.3 L1692.8 420.4 L1695.0 422.5 L1697.2 424.6 L1699.3 426.7 L1701.5 428.9 L1703.7 431.1 L1705.8 433.2 L1708.0 435.4 L1710.1 437.6 L1712.2 439.8 L1714.3 442.0 L1716.4 444.2 L1718.5 446.4 L1720.6 448.7 L1722.7 450.9 L1724.8 453.2 L1726.8 455.4 L1728.9 457.7 L1730.9 460.0 L1732.9 462.3 L1735.0 464.5 L1737.0 466.8 L1739.0 469.1 L1741.0 471.5 L1743.0 473.8 L1745.0 476.1 L1746.9 478.4 L1748.9 480.8 L1750.9 483.1 L1752.8 485.4 L1754.7 487.8 L1756.7 490.1 L1758.6 492.5 L1760.5 494.9 L1762.4 497.2 L1764.3 499.6 L1766.2 502.0 L1768.1 504.4 L1769.9 506.7 L1771.8 509.1 L1773.6 511.5 L1775.5 513.9 L1777.3 516.3 L1779.1 518.7 L1780.9 521.1 L1782.7 523.5 L1784.5 525.9 L1786.3 528.3 L1788.1 530.7 L1789.9 533.1 L1791.6 535.5 L1793.4 537.9 L1795.1 540.4 L1796.9 542.8 L1798.6 545.2 L1800.3 547.6 L1802.0 550.0 L1803.7 552.4 L1805.4 554.8 L1807.1 557.2 L1808.8 559.6 L1810.5 562.0 L1812.1 564.4 L1813.8 566.8 L1815.5 569.2 L1817.2 571.6 L1818.8 574.0 L1820.5 576.4 L1822.2 578.8 L1823.9 581.1 L1825.6 583.5 L1827.3 585.9 L1829.0 588.2 L1830.7 590.6 L1832.5 592.9 L1834.2 595.3 L1835.9 597.6 L1837.7 600.0 L1839.5 602.3 L1841.3 604.6 L1843.1 606.9 L1844.9 609.2 L1846.8 611.5 L1848.7 613.8 L1850.6 616.0 L1852.5 618.3 L1854.4 620.5 L1856.4 622.8 L1858.4 625.0 L1860.4 627.2 L1862.4 629.4 L1864.5 631.6 L1866.6 633.8 L1868.8 636.0 L1870.9 638.1 L1873.1 640.2 L1875.4 642.4 L1877.6 644.5 L1879.9 646.6 L1882.3 648.6 L1884.7 650.7 L1887.1 652.6 L1889.5 654.5 L1892.0 656.4 L1894.5 658.1 L1897.1 659.8 L1899.6 661.4 L1902.3 662.9 L1904.9 664.3 L1907.6 665.6 L1910.3 666.7 L1913.1 667.7 L1915.9 668.6 L1918.7 669.3 L1921.6 669.9 L1924.4 670.4 L1927.3 670.8 L1930.2 671.0 L1933.2 671.2 L1936.1 671.3 L1939.1 671.2 L1942.0 671.1 L1945.0 670.9 L1947.9 670.6 L1950.9 670.3 L1953.8 669.9 L1956.8 669.4 L1959.7 668.9 L1962.7 668.4 L1965.6 667.8 L1968.5 667.1 L1971.4 666.4 L1974.2 665.7 L1977.1 664.9 L1980.0 664.1 L1982.8 663.3 L1985.7 662.4 L1988.5 661.5 L1991.3 660.5 L1994.2 659.5 L1997.0 658.5 L1999.8 657.4 L2002.6 656.4 L2005.4 655.2 L2008.2 654.1 L2010.9 653.0 L2013.7 651.8 L2016.5 650.6 L2019.2 649.3 L2022.0 648.1 L2024.7 646.8 L2027.5 645.6 L2030.2 644.3 L2032.9 643.0 L2035.7 641.6 L2038.4 640.3 L2041.1 639.0 L2043.8 637.6 L2046.6 636.3 L2049.3 634.9 L2052.0 633.6 L2054.7 632.2 L2057.4 630.8 L2060.1 629.5 L2062.8 628.1 L2065.5 626.7 L2068.2 625.4 L2071.0 624.0 L2073.7 622.7 L2076.4 621.3 L2079.1 620.0 L2081.8 618.7 L2084.5 617.4 L2087.2 616.1 L2089.9 614.8 L2092.6 613.5 L2095.3 612.2 L2098.0 610.9 L2100.7 609.6 L2103.4 608.3 L2106.1 607.1 L2108.7 605.8 L2111.4 604.5 L2114.1 603.1 L2116.7 601.8 L2119.4 600.5 L2122.0 599.1 L2124.7 597.8 L2127.3 596.4 L2129.9 595.0 L2132.5 593.6 L2135.1 592.2 L2137.7 590.8 L2140.3 589.3 L2142.8 587.8 L2145.3 586.3 L2147.9 584.8 L2150.4 583.2 L2152.9 581.6 L2155.4 580.0 L2157.8 578.4 L2160.3 576.7 L2162.7 575.0 L2165.1 573.3 L2167.5 571.6 L2169.9 569.8 L2172.3 568.0 L2174.7 566.2 L2177.0 564.4 L2179.4 562.5 L2181.7 560.7 L2184.0 558.8 L2186.3 556.9 L2188.6 554.9 L2190.9 553.0 L2193.1 551.0 L2195.4 549.0 L2197.6 547.0 L2199.8 545.0 L2202.1 542.9 L2204.2 540.9 L2206.4 538.8 L2208.6 536.7 L2210.8 534.6 L2212.9 532.4 L2215.0 530.3 L2217.2 528.1 L2219.3 526.0 L2221.4 523.8 L2223.5 521.6 L2225.5 519.4 L2227.6 517.1 L2229.7 514.9 L2231.7 512.7 L2233.7 510.4 L2235.7 508.1 L2237.7 505.8 L2239.7 503.5 L2241.7 501.2 L2243.7 498.9 L2245.7 496.6 L2247.6 494.3 L2249.6 491.9 L2251.5 489.6 L2253.4 487.2 L2255.3 484.9 L2257.2 482.5 L2259.1 480.1 L2261.0 477.7 L2262.9 475.4 L2264.7 473.0 L2266.6 470.6 L2268.4 468.2 L2270.3 465.8 L2272.1 463.4 L2273.9 461.0 L2275.7 458.5 L2277.5 456.1 L2279.3 453.7 L2281.1 451.3 L2282.9 448.9 L2284.6 446.5 L2286.4 444.1 L2288.1 441.6 L2289.9 439.2 L2291.6 436.8 L2293.3 434.4 L2295.0 432.0 L2296.7 429.6 L2298.4 427.2 L2300.1 424.8 L2301.8 422.4 L2303.5 420.0 L2305.1 417.6 L2306.8 415.2 L2308.5 412.8 L2310.1 410.5 L2311.7 408.1 L2313.0 405.0" fill="none" stroke="#00ff00" stroke-width="15" stroke-linejoin="round" stroke-linecap="butt" shape-rendering="crispEdges"/>
<line x1="268" y1="281" x2="2312" y2="281" stroke="#000" stroke-width="4" stroke-dasharray="6 2.3"/>
<line x1="596.0" y1="266.0" x2="1558.0" y2="266.0" stroke="#000" stroke-width="6"/>
<polygon points="558.0,266.0 597.0,253.0 597.0,279.0" fill="#000"/>
<polygon points="1596.0,266.0 1557.0,253.0 1557.0,279.0" fill="#000"/>
<line x1="1895.0" y1="392.0" x2="2174.0" y2="392.0" stroke="#000" stroke-width="6"/>
<polygon points="1857.0,392.0 1896.0,379.0 1896.0,405.0" fill="#000"/>
<polygon points="2212.0,392.0 2173.0,379.0 2173.0,405.0" fill="#000"/>
<text x="852.73" y="221.40" textLength="298.12" lengthAdjust="spacingAndGlyphs" style='font-family:"Liberation Serif";font-size:78.0px' fill="#000">Mid-band</text>
<text x="1872.65" y="352.20" textLength="321.37" lengthAdjust="spacingAndGlyphs" style='font-family:"Liberation Serif";font-size:78.0px' fill="#000">High-band</text>
<rect x="316.5" y="1121" width="843.5" height="503.5" fill="#fff" stroke="#000" stroke-width="3.5"/>
<line x1="338" y1="1175.0" x2="450" y2="1175.0" stroke="#0000ff" stroke-width="15" stroke-dasharray="15 26.5"/>
<text x="460.32" y="1206.00" textLength="211.00" lengthAdjust="spacingAndGlyphs" style='font-family:"Liberation Sans";font-size:79.0px' fill="#000">Step-1</text>
<line x1="338" y1="1274.5" x2="450" y2="1274.5" stroke="#ff00ff" stroke-width="15" stroke-dasharray="56 27"/>
<text x="460.14" y="1305.20" textLength="221.55" lengthAdjust="spacingAndGlyphs" style='font-family:"Liberation Sans";font-size:79.0px' fill="#000">Step-2</text>
<line x1="338" y1="1373.5" x2="450" y2="1373.5" stroke="#ff0000" stroke-width="15" stroke-dasharray="56 27 15 27"/>
<text x="460.12" y="1403.80" textLength="222.48" lengthAdjust="spacingAndGlyphs" style='font-family:"Liberation Sans";font-size:79.0px' fill="#000">Step-3</text>
<line x1="338" y1="1469.2" x2="450" y2="1469.2" stroke="#000000" stroke-width="15"/>
<text x="460.16" y="1500.70" textLength="220.52" lengthAdjust="spacingAndGlyphs" style='font-family:"Liberation Sans";font-size:79.0px' fill="#000">Step-4</text>
<line x1="338" y1="1568.5" x2="450" y2="1568.5" stroke="#00ff00" stroke-width="15"/>
<text x="457.89" y="1599.90" textLength="684.34" lengthAdjust="spacingAndGlyphs" style='font-family:"Liberation Sans";font-size:79.0px' fill="#000">Loop STS with MNO</text>
<text x="213.88" y="68.00" textLength="42.07" lengthAdjust="spacingAndGlyphs" style='font-family:"Liberation Sans";font-size:79.0px' fill="#000">0</text>
<text x="147.10" y="469.60" textLength="108.24" lengthAdjust="spacingAndGlyphs" style='font-family:"Liberation Sans";font-size:79.0px' fill="#000">-10</text>
<text x="147.00" y="874.80" textLength="108.45" lengthAdjust="spacingAndGlyphs" style='font-family:"Liberation Sans";font-size:79.0px' fill="#000">-20</text>
<text x="147.10" y="1280.00" textLength="108.24" lengthAdjust="spacingAndGlyphs" style='font-family:"Liberation Sans";font-size:79.0px' fill="#000">-30</text>
<text x="146.89" y="1685.00" textLength="108.66" lengthAdjust="spacingAndGlyphs" style='font-family:"Liberation Sans";font-size:79.0px' fill="#000">-40</text>
<text x="250.93" y="1738.20" textLength="26.91" lengthAdjust="spacingAndGlyphs" style='font-family:"Liberation Sans";font-size:79.0px' fill="#000">1</text>
<text x="555.47" y="1738.20" textLength="104.75" lengthAdjust="spacingAndGlyphs" style='font-family:"Liberation Sans";font-size:79.0px' fill="#000">1.5</text>
<text x="926.28" y="1738.20" textLength="43.65" lengthAdjust="spacingAndGlyphs" style='font-family:"Liberation Sans";font-size:79.0px' fill="#000">2</text>
<text x="1236.45" y="1738.20" textLength="107.04" lengthAdjust="spacingAndGlyphs" style='font-family:"Liberation Sans";font-size:79.0px' fill="#000">2.5</text>
<text x="1610.64" y="1738.20" textLength="43.91" lengthAdjust="spacingAndGlyphs" style='font-family:"Liberation Sans";font-size:79.0px' fill="#000">3</text>
<text x="1917.42" y="1738.20" textLength="106.97" lengthAdjust="spacingAndGlyphs" style='font-family:"Liberation Sans";font-size:79.0px' fill="#000">3.5</text>
<text x="2293.21" y="1738.20" textLength="41.34" lengthAdjust="spacingAndGlyphs" style='font-family:"Liberation Sans";font-size:79.0px' fill="#000">4</text>
<text x="999.69" y="1817.70" textLength="354.86" lengthAdjust="spacingAndGlyphs" style='font-family:"Liberation Sans";font-size:79.0px' fill="#000">Frequency</text>
<text x="1379.72" y="1817.90" textLength="24.34" lengthAdjust="spacingAndGlyphs" style='font-family:"Liberation Sans";font-size:74.5px' fill="#000">(</text>
<text x="1403.15" y="1817.90" textLength="149.89" lengthAdjust="spacingAndGlyphs" style='font-family:"Liberation Sans";font-size:79.0px' fill="#000">GHz</text>
<text x="1550.27" y="1817.90" textLength="24.34" lengthAdjust="spacingAndGlyphs" style='font-family:"Liberation Sans";font-size:74.5px' fill="#000">)</text>
<g transform="rotate(-90)">
<text x="-1010.45" y="76.30" textLength="19.49" lengthAdjust="spacingAndGlyphs" style='font-family:"Liberation Sans";font-size:75.0px' fill="#000">|</text>
<text x="-991.32" y="75.70" textLength="50.91" lengthAdjust="spacingAndGlyphs" style='font-family:"Liberation Sans";font-size:79.0px' fill="#000">S</text>
<text x="-940.40" y="117.00" textLength="57.04" lengthAdjust="spacingAndGlyphs" style='font-family:"Liberation Sans";font-size:62.0px' fill="#000">11</text>
<text x="-874.65" y="76.30" textLength="19.49" lengthAdjust="spacingAndGlyphs" style='font-family:"Liberation Sans";font-size:75.0px' fill="#000">|</text>
<text x="-832.95" y="76.10" textLength="24.73" lengthAdjust="spacingAndGlyphs" style='font-family:"Liberation Sans";font-size:74.0px' fill="#000">(</text>
<text x="-807.53" y="75.90" textLength="92.56" lengthAdjust="spacingAndGlyphs" style='font-family:"Liberation Sans";font-size:79.0px' fill="#000">dB</text>
<text x="-713.97" y="76.10" textLength="25.50" lengthAdjust="spacingAndGlyphs" style='font-family:"Liberation Sans";font-size:74.0px' fill="#000">)</text>
</g>
</svg></body></html>
